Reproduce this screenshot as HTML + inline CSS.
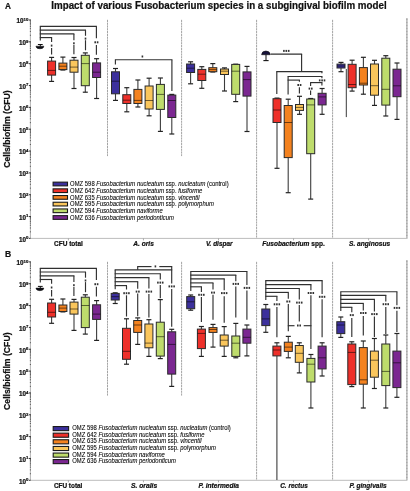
<!DOCTYPE html>
<html><head><meta charset="utf-8"><style>
html,body{margin:0;padding:0;background:#fff;}
svg{display:block;will-change:transform;}
text{font-family:"Liberation Sans", sans-serif;fill:#111;}
text[font-weight="bold"]{stroke:#111;stroke-width:0.22;}
.lg{fill:#000;stroke:#000;stroke-width:0.08;}
</style></head><body>
<svg width="410" height="491" viewBox="0 0 410 491" font-family="Liberation Sans, sans-serif">
<rect width="410" height="491" fill="#fff"/>
<text x="4.9" y="9.0" font-size="8.2" font-weight="bold">A</text>
<text x="5.0" y="256.7" font-size="8.6" font-weight="bold">B</text>
<text x="51.3" y="8.5" font-size="10.3" font-weight="bold" textLength="335.3" lengthAdjust="spacingAndGlyphs">Impact of various Fusobacterium species in a subgingival biofilm model</text>
<line x1="107.50" y1="19.80" x2="107.50" y2="156.10" stroke="#a4a4a4" stroke-width="1.0" stroke-dasharray="2.2,0.6"/>
<line x1="181.60" y1="19.80" x2="181.60" y2="156.10" stroke="#a4a4a4" stroke-width="1.0" stroke-dasharray="2.2,0.6"/>
<line x1="256.60" y1="19.80" x2="256.60" y2="238.40" stroke="#a4a4a4" stroke-width="1.0" stroke-dasharray="2.2,0.6"/>
<line x1="332.60" y1="19.80" x2="332.60" y2="238.40" stroke="#a4a4a4" stroke-width="1.0" stroke-dasharray="2.2,0.6"/>
<line x1="406.90" y1="18.30" x2="406.90" y2="238.40" stroke="#9c9c9c" stroke-width="1.5" stroke-dasharray="2.4,0.6"/>
<line x1="30.40" y1="19.80" x2="30.40" y2="238.40" stroke="#b4b4b4" stroke-width="1.0" />
<line x1="28.90" y1="238.40" x2="31.00" y2="238.40" stroke="#333" stroke-width="1.0" />
<line x1="29.90" y1="231.83" x2="31.00" y2="231.83" stroke="#555" stroke-width="0.9" />
<line x1="29.90" y1="227.98" x2="31.00" y2="227.98" stroke="#555" stroke-width="0.9" />
<line x1="29.90" y1="225.25" x2="31.00" y2="225.25" stroke="#555" stroke-width="0.9" />
<line x1="29.90" y1="223.13" x2="31.00" y2="223.13" stroke="#555" stroke-width="0.9" />
<line x1="29.90" y1="221.41" x2="31.00" y2="221.41" stroke="#555" stroke-width="0.9" />
<line x1="29.90" y1="219.94" x2="31.00" y2="219.94" stroke="#555" stroke-width="0.9" />
<line x1="29.90" y1="218.68" x2="31.00" y2="218.68" stroke="#555" stroke-width="0.9" />
<line x1="29.90" y1="217.56" x2="31.00" y2="217.56" stroke="#555" stroke-width="0.9" />
<text x="28.4" y="241.80" text-anchor="end" font-size="6.3" font-weight="bold">10<tspan font-size="4.3" dy="-2.6">0</tspan></text>
<line x1="28.90" y1="216.56" x2="31.00" y2="216.56" stroke="#333" stroke-width="1.0" />
<line x1="29.90" y1="209.99" x2="31.00" y2="209.99" stroke="#555" stroke-width="0.9" />
<line x1="29.90" y1="206.14" x2="31.00" y2="206.14" stroke="#555" stroke-width="0.9" />
<line x1="29.90" y1="203.41" x2="31.00" y2="203.41" stroke="#555" stroke-width="0.9" />
<line x1="29.90" y1="201.29" x2="31.00" y2="201.29" stroke="#555" stroke-width="0.9" />
<line x1="29.90" y1="199.57" x2="31.00" y2="199.57" stroke="#555" stroke-width="0.9" />
<line x1="29.90" y1="198.10" x2="31.00" y2="198.10" stroke="#555" stroke-width="0.9" />
<line x1="29.90" y1="196.84" x2="31.00" y2="196.84" stroke="#555" stroke-width="0.9" />
<line x1="29.90" y1="195.72" x2="31.00" y2="195.72" stroke="#555" stroke-width="0.9" />
<text x="28.4" y="219.96" text-anchor="end" font-size="6.3" font-weight="bold">10<tspan font-size="4.3" dy="-2.6">1</tspan></text>
<line x1="28.90" y1="194.72" x2="31.00" y2="194.72" stroke="#333" stroke-width="1.0" />
<line x1="29.90" y1="188.15" x2="31.00" y2="188.15" stroke="#555" stroke-width="0.9" />
<line x1="29.90" y1="184.30" x2="31.00" y2="184.30" stroke="#555" stroke-width="0.9" />
<line x1="29.90" y1="181.57" x2="31.00" y2="181.57" stroke="#555" stroke-width="0.9" />
<line x1="29.90" y1="179.45" x2="31.00" y2="179.45" stroke="#555" stroke-width="0.9" />
<line x1="29.90" y1="177.73" x2="31.00" y2="177.73" stroke="#555" stroke-width="0.9" />
<line x1="29.90" y1="176.26" x2="31.00" y2="176.26" stroke="#555" stroke-width="0.9" />
<line x1="29.90" y1="175.00" x2="31.00" y2="175.00" stroke="#555" stroke-width="0.9" />
<line x1="29.90" y1="173.88" x2="31.00" y2="173.88" stroke="#555" stroke-width="0.9" />
<text x="28.4" y="198.12" text-anchor="end" font-size="6.3" font-weight="bold">10<tspan font-size="4.3" dy="-2.6">2</tspan></text>
<line x1="28.90" y1="172.88" x2="31.00" y2="172.88" stroke="#333" stroke-width="1.0" />
<line x1="29.90" y1="166.31" x2="31.00" y2="166.31" stroke="#555" stroke-width="0.9" />
<line x1="29.90" y1="162.46" x2="31.00" y2="162.46" stroke="#555" stroke-width="0.9" />
<line x1="29.90" y1="159.73" x2="31.00" y2="159.73" stroke="#555" stroke-width="0.9" />
<line x1="29.90" y1="157.61" x2="31.00" y2="157.61" stroke="#555" stroke-width="0.9" />
<line x1="29.90" y1="155.89" x2="31.00" y2="155.89" stroke="#555" stroke-width="0.9" />
<line x1="29.90" y1="154.42" x2="31.00" y2="154.42" stroke="#555" stroke-width="0.9" />
<line x1="29.90" y1="153.16" x2="31.00" y2="153.16" stroke="#555" stroke-width="0.9" />
<line x1="29.90" y1="152.04" x2="31.00" y2="152.04" stroke="#555" stroke-width="0.9" />
<text x="28.4" y="176.28" text-anchor="end" font-size="6.3" font-weight="bold">10<tspan font-size="4.3" dy="-2.6">3</tspan></text>
<line x1="28.90" y1="151.04" x2="31.00" y2="151.04" stroke="#333" stroke-width="1.0" />
<line x1="29.90" y1="144.47" x2="31.00" y2="144.47" stroke="#555" stroke-width="0.9" />
<line x1="29.90" y1="140.62" x2="31.00" y2="140.62" stroke="#555" stroke-width="0.9" />
<line x1="29.90" y1="137.89" x2="31.00" y2="137.89" stroke="#555" stroke-width="0.9" />
<line x1="29.90" y1="135.77" x2="31.00" y2="135.77" stroke="#555" stroke-width="0.9" />
<line x1="29.90" y1="134.05" x2="31.00" y2="134.05" stroke="#555" stroke-width="0.9" />
<line x1="29.90" y1="132.58" x2="31.00" y2="132.58" stroke="#555" stroke-width="0.9" />
<line x1="29.90" y1="131.32" x2="31.00" y2="131.32" stroke="#555" stroke-width="0.9" />
<line x1="29.90" y1="130.20" x2="31.00" y2="130.20" stroke="#555" stroke-width="0.9" />
<text x="28.4" y="154.44" text-anchor="end" font-size="6.3" font-weight="bold">10<tspan font-size="4.3" dy="-2.6">4</tspan></text>
<line x1="28.90" y1="129.20" x2="31.00" y2="129.20" stroke="#333" stroke-width="1.0" />
<line x1="29.90" y1="122.63" x2="31.00" y2="122.63" stroke="#555" stroke-width="0.9" />
<line x1="29.90" y1="118.78" x2="31.00" y2="118.78" stroke="#555" stroke-width="0.9" />
<line x1="29.90" y1="116.05" x2="31.00" y2="116.05" stroke="#555" stroke-width="0.9" />
<line x1="29.90" y1="113.93" x2="31.00" y2="113.93" stroke="#555" stroke-width="0.9" />
<line x1="29.90" y1="112.21" x2="31.00" y2="112.21" stroke="#555" stroke-width="0.9" />
<line x1="29.90" y1="110.74" x2="31.00" y2="110.74" stroke="#555" stroke-width="0.9" />
<line x1="29.90" y1="109.48" x2="31.00" y2="109.48" stroke="#555" stroke-width="0.9" />
<line x1="29.90" y1="108.36" x2="31.00" y2="108.36" stroke="#555" stroke-width="0.9" />
<text x="28.4" y="132.60" text-anchor="end" font-size="6.3" font-weight="bold">10<tspan font-size="4.3" dy="-2.6">5</tspan></text>
<line x1="28.90" y1="107.36" x2="31.00" y2="107.36" stroke="#333" stroke-width="1.0" />
<line x1="29.90" y1="100.79" x2="31.00" y2="100.79" stroke="#555" stroke-width="0.9" />
<line x1="29.90" y1="96.94" x2="31.00" y2="96.94" stroke="#555" stroke-width="0.9" />
<line x1="29.90" y1="94.21" x2="31.00" y2="94.21" stroke="#555" stroke-width="0.9" />
<line x1="29.90" y1="92.09" x2="31.00" y2="92.09" stroke="#555" stroke-width="0.9" />
<line x1="29.90" y1="90.37" x2="31.00" y2="90.37" stroke="#555" stroke-width="0.9" />
<line x1="29.90" y1="88.90" x2="31.00" y2="88.90" stroke="#555" stroke-width="0.9" />
<line x1="29.90" y1="87.64" x2="31.00" y2="87.64" stroke="#555" stroke-width="0.9" />
<line x1="29.90" y1="86.52" x2="31.00" y2="86.52" stroke="#555" stroke-width="0.9" />
<text x="28.4" y="110.76" text-anchor="end" font-size="6.3" font-weight="bold">10<tspan font-size="4.3" dy="-2.6">6</tspan></text>
<line x1="28.90" y1="85.52" x2="31.00" y2="85.52" stroke="#333" stroke-width="1.0" />
<line x1="29.90" y1="78.95" x2="31.00" y2="78.95" stroke="#555" stroke-width="0.9" />
<line x1="29.90" y1="75.10" x2="31.00" y2="75.10" stroke="#555" stroke-width="0.9" />
<line x1="29.90" y1="72.37" x2="31.00" y2="72.37" stroke="#555" stroke-width="0.9" />
<line x1="29.90" y1="70.25" x2="31.00" y2="70.25" stroke="#555" stroke-width="0.9" />
<line x1="29.90" y1="68.53" x2="31.00" y2="68.53" stroke="#555" stroke-width="0.9" />
<line x1="29.90" y1="67.06" x2="31.00" y2="67.06" stroke="#555" stroke-width="0.9" />
<line x1="29.90" y1="65.80" x2="31.00" y2="65.80" stroke="#555" stroke-width="0.9" />
<line x1="29.90" y1="64.68" x2="31.00" y2="64.68" stroke="#555" stroke-width="0.9" />
<text x="28.4" y="88.92" text-anchor="end" font-size="6.3" font-weight="bold">10<tspan font-size="4.3" dy="-2.6">7</tspan></text>
<line x1="28.90" y1="63.68" x2="31.00" y2="63.68" stroke="#333" stroke-width="1.0" />
<line x1="29.90" y1="57.11" x2="31.00" y2="57.11" stroke="#555" stroke-width="0.9" />
<line x1="29.90" y1="53.26" x2="31.00" y2="53.26" stroke="#555" stroke-width="0.9" />
<line x1="29.90" y1="50.53" x2="31.00" y2="50.53" stroke="#555" stroke-width="0.9" />
<line x1="29.90" y1="48.41" x2="31.00" y2="48.41" stroke="#555" stroke-width="0.9" />
<line x1="29.90" y1="46.69" x2="31.00" y2="46.69" stroke="#555" stroke-width="0.9" />
<line x1="29.90" y1="45.22" x2="31.00" y2="45.22" stroke="#555" stroke-width="0.9" />
<line x1="29.90" y1="43.96" x2="31.00" y2="43.96" stroke="#555" stroke-width="0.9" />
<line x1="29.90" y1="42.84" x2="31.00" y2="42.84" stroke="#555" stroke-width="0.9" />
<text x="28.4" y="67.08" text-anchor="end" font-size="6.3" font-weight="bold">10<tspan font-size="4.3" dy="-2.6">8</tspan></text>
<line x1="28.90" y1="41.84" x2="31.00" y2="41.84" stroke="#333" stroke-width="1.0" />
<line x1="29.90" y1="35.27" x2="31.00" y2="35.27" stroke="#555" stroke-width="0.9" />
<line x1="29.90" y1="31.42" x2="31.00" y2="31.42" stroke="#555" stroke-width="0.9" />
<line x1="29.90" y1="28.69" x2="31.00" y2="28.69" stroke="#555" stroke-width="0.9" />
<line x1="29.90" y1="26.57" x2="31.00" y2="26.57" stroke="#555" stroke-width="0.9" />
<line x1="29.90" y1="24.85" x2="31.00" y2="24.85" stroke="#555" stroke-width="0.9" />
<line x1="29.90" y1="23.38" x2="31.00" y2="23.38" stroke="#555" stroke-width="0.9" />
<line x1="29.90" y1="22.12" x2="31.00" y2="22.12" stroke="#555" stroke-width="0.9" />
<line x1="29.90" y1="21.00" x2="31.00" y2="21.00" stroke="#555" stroke-width="0.9" />
<text x="28.4" y="45.24" text-anchor="end" font-size="6.3" font-weight="bold">10<tspan font-size="4.3" dy="-2.6">9</tspan></text>
<line x1="28.90" y1="20.00" x2="31.00" y2="20.00" stroke="#333" stroke-width="1.0" />
<text x="28.4" y="23.40" text-anchor="end" font-size="6.3" font-weight="bold">10<tspan font-size="4.3" dy="-2.6">10</tspan></text>
<line x1="30.40" y1="238.40" x2="407.20" y2="238.40" stroke="#bcbcbc" stroke-width="1.0" />
<line x1="68.40" y1="238.40" x2="68.40" y2="240.40" stroke="#999" stroke-width="0.8" />
<line x1="143.45" y1="238.40" x2="143.45" y2="240.40" stroke="#999" stroke-width="0.8" />
<line x1="218.50" y1="238.40" x2="218.50" y2="240.40" stroke="#999" stroke-width="0.8" />
<line x1="293.55" y1="238.40" x2="293.55" y2="240.40" stroke="#999" stroke-width="0.8" />
<line x1="368.60" y1="238.40" x2="368.60" y2="240.40" stroke="#999" stroke-width="0.8" />
<text x="9.6" y="129.10" font-size="8.7" font-weight="bold" text-anchor="middle" transform="rotate(-90 9.6 129.10)" textLength="77.5" lengthAdjust="spacingAndGlyphs">Cells/biofilm (CFU)</text>
<line x1="107.50" y1="261.80" x2="107.50" y2="395.60" stroke="#a4a4a4" stroke-width="1.0" stroke-dasharray="2.2,0.6"/>
<line x1="181.60" y1="261.80" x2="181.60" y2="395.60" stroke="#a4a4a4" stroke-width="1.0" stroke-dasharray="2.2,0.6"/>
<line x1="256.60" y1="261.80" x2="256.60" y2="480.30" stroke="#a4a4a4" stroke-width="1.0" stroke-dasharray="2.2,0.6"/>
<line x1="332.60" y1="261.80" x2="332.60" y2="480.30" stroke="#a4a4a4" stroke-width="1.0" stroke-dasharray="2.2,0.6"/>
<line x1="406.90" y1="260.30" x2="406.90" y2="480.30" stroke="#9c9c9c" stroke-width="1.5" stroke-dasharray="2.4,0.6"/>
<line x1="30.40" y1="261.80" x2="30.40" y2="480.30" stroke="#b4b4b4" stroke-width="1.0" />
<line x1="28.90" y1="480.30" x2="31.00" y2="480.30" stroke="#333" stroke-width="1.0" />
<line x1="29.90" y1="473.73" x2="31.00" y2="473.73" stroke="#555" stroke-width="0.9" />
<line x1="29.90" y1="469.88" x2="31.00" y2="469.88" stroke="#555" stroke-width="0.9" />
<line x1="29.90" y1="467.15" x2="31.00" y2="467.15" stroke="#555" stroke-width="0.9" />
<line x1="29.90" y1="465.03" x2="31.00" y2="465.03" stroke="#555" stroke-width="0.9" />
<line x1="29.90" y1="463.31" x2="31.00" y2="463.31" stroke="#555" stroke-width="0.9" />
<line x1="29.90" y1="461.84" x2="31.00" y2="461.84" stroke="#555" stroke-width="0.9" />
<line x1="29.90" y1="460.58" x2="31.00" y2="460.58" stroke="#555" stroke-width="0.9" />
<line x1="29.90" y1="459.46" x2="31.00" y2="459.46" stroke="#555" stroke-width="0.9" />
<text x="28.4" y="483.70" text-anchor="end" font-size="6.3" font-weight="bold">10<tspan font-size="4.3" dy="-2.6">0</tspan></text>
<line x1="28.90" y1="458.46" x2="31.00" y2="458.46" stroke="#333" stroke-width="1.0" />
<line x1="29.90" y1="451.89" x2="31.00" y2="451.89" stroke="#555" stroke-width="0.9" />
<line x1="29.90" y1="448.04" x2="31.00" y2="448.04" stroke="#555" stroke-width="0.9" />
<line x1="29.90" y1="445.31" x2="31.00" y2="445.31" stroke="#555" stroke-width="0.9" />
<line x1="29.90" y1="443.19" x2="31.00" y2="443.19" stroke="#555" stroke-width="0.9" />
<line x1="29.90" y1="441.47" x2="31.00" y2="441.47" stroke="#555" stroke-width="0.9" />
<line x1="29.90" y1="440.00" x2="31.00" y2="440.00" stroke="#555" stroke-width="0.9" />
<line x1="29.90" y1="438.74" x2="31.00" y2="438.74" stroke="#555" stroke-width="0.9" />
<line x1="29.90" y1="437.62" x2="31.00" y2="437.62" stroke="#555" stroke-width="0.9" />
<text x="28.4" y="461.86" text-anchor="end" font-size="6.3" font-weight="bold">10<tspan font-size="4.3" dy="-2.6">1</tspan></text>
<line x1="28.90" y1="436.62" x2="31.00" y2="436.62" stroke="#333" stroke-width="1.0" />
<line x1="29.90" y1="430.05" x2="31.00" y2="430.05" stroke="#555" stroke-width="0.9" />
<line x1="29.90" y1="426.20" x2="31.00" y2="426.20" stroke="#555" stroke-width="0.9" />
<line x1="29.90" y1="423.47" x2="31.00" y2="423.47" stroke="#555" stroke-width="0.9" />
<line x1="29.90" y1="421.35" x2="31.00" y2="421.35" stroke="#555" stroke-width="0.9" />
<line x1="29.90" y1="419.63" x2="31.00" y2="419.63" stroke="#555" stroke-width="0.9" />
<line x1="29.90" y1="418.16" x2="31.00" y2="418.16" stroke="#555" stroke-width="0.9" />
<line x1="29.90" y1="416.90" x2="31.00" y2="416.90" stroke="#555" stroke-width="0.9" />
<line x1="29.90" y1="415.78" x2="31.00" y2="415.78" stroke="#555" stroke-width="0.9" />
<text x="28.4" y="440.02" text-anchor="end" font-size="6.3" font-weight="bold">10<tspan font-size="4.3" dy="-2.6">2</tspan></text>
<line x1="28.90" y1="414.78" x2="31.00" y2="414.78" stroke="#333" stroke-width="1.0" />
<line x1="29.90" y1="408.21" x2="31.00" y2="408.21" stroke="#555" stroke-width="0.9" />
<line x1="29.90" y1="404.36" x2="31.00" y2="404.36" stroke="#555" stroke-width="0.9" />
<line x1="29.90" y1="401.63" x2="31.00" y2="401.63" stroke="#555" stroke-width="0.9" />
<line x1="29.90" y1="399.51" x2="31.00" y2="399.51" stroke="#555" stroke-width="0.9" />
<line x1="29.90" y1="397.79" x2="31.00" y2="397.79" stroke="#555" stroke-width="0.9" />
<line x1="29.90" y1="396.32" x2="31.00" y2="396.32" stroke="#555" stroke-width="0.9" />
<line x1="29.90" y1="395.06" x2="31.00" y2="395.06" stroke="#555" stroke-width="0.9" />
<line x1="29.90" y1="393.94" x2="31.00" y2="393.94" stroke="#555" stroke-width="0.9" />
<text x="28.4" y="418.18" text-anchor="end" font-size="6.3" font-weight="bold">10<tspan font-size="4.3" dy="-2.6">3</tspan></text>
<line x1="28.90" y1="392.94" x2="31.00" y2="392.94" stroke="#333" stroke-width="1.0" />
<line x1="29.90" y1="386.37" x2="31.00" y2="386.37" stroke="#555" stroke-width="0.9" />
<line x1="29.90" y1="382.52" x2="31.00" y2="382.52" stroke="#555" stroke-width="0.9" />
<line x1="29.90" y1="379.79" x2="31.00" y2="379.79" stroke="#555" stroke-width="0.9" />
<line x1="29.90" y1="377.67" x2="31.00" y2="377.67" stroke="#555" stroke-width="0.9" />
<line x1="29.90" y1="375.95" x2="31.00" y2="375.95" stroke="#555" stroke-width="0.9" />
<line x1="29.90" y1="374.48" x2="31.00" y2="374.48" stroke="#555" stroke-width="0.9" />
<line x1="29.90" y1="373.22" x2="31.00" y2="373.22" stroke="#555" stroke-width="0.9" />
<line x1="29.90" y1="372.10" x2="31.00" y2="372.10" stroke="#555" stroke-width="0.9" />
<text x="28.4" y="396.34" text-anchor="end" font-size="6.3" font-weight="bold">10<tspan font-size="4.3" dy="-2.6">4</tspan></text>
<line x1="28.90" y1="371.10" x2="31.00" y2="371.10" stroke="#333" stroke-width="1.0" />
<line x1="29.90" y1="364.53" x2="31.00" y2="364.53" stroke="#555" stroke-width="0.9" />
<line x1="29.90" y1="360.68" x2="31.00" y2="360.68" stroke="#555" stroke-width="0.9" />
<line x1="29.90" y1="357.95" x2="31.00" y2="357.95" stroke="#555" stroke-width="0.9" />
<line x1="29.90" y1="355.83" x2="31.00" y2="355.83" stroke="#555" stroke-width="0.9" />
<line x1="29.90" y1="354.11" x2="31.00" y2="354.11" stroke="#555" stroke-width="0.9" />
<line x1="29.90" y1="352.64" x2="31.00" y2="352.64" stroke="#555" stroke-width="0.9" />
<line x1="29.90" y1="351.38" x2="31.00" y2="351.38" stroke="#555" stroke-width="0.9" />
<line x1="29.90" y1="350.26" x2="31.00" y2="350.26" stroke="#555" stroke-width="0.9" />
<text x="28.4" y="374.50" text-anchor="end" font-size="6.3" font-weight="bold">10<tspan font-size="4.3" dy="-2.6">5</tspan></text>
<line x1="28.90" y1="349.26" x2="31.00" y2="349.26" stroke="#333" stroke-width="1.0" />
<line x1="29.90" y1="342.69" x2="31.00" y2="342.69" stroke="#555" stroke-width="0.9" />
<line x1="29.90" y1="338.84" x2="31.00" y2="338.84" stroke="#555" stroke-width="0.9" />
<line x1="29.90" y1="336.11" x2="31.00" y2="336.11" stroke="#555" stroke-width="0.9" />
<line x1="29.90" y1="333.99" x2="31.00" y2="333.99" stroke="#555" stroke-width="0.9" />
<line x1="29.90" y1="332.27" x2="31.00" y2="332.27" stroke="#555" stroke-width="0.9" />
<line x1="29.90" y1="330.80" x2="31.00" y2="330.80" stroke="#555" stroke-width="0.9" />
<line x1="29.90" y1="329.54" x2="31.00" y2="329.54" stroke="#555" stroke-width="0.9" />
<line x1="29.90" y1="328.42" x2="31.00" y2="328.42" stroke="#555" stroke-width="0.9" />
<text x="28.4" y="352.66" text-anchor="end" font-size="6.3" font-weight="bold">10<tspan font-size="4.3" dy="-2.6">6</tspan></text>
<line x1="28.90" y1="327.42" x2="31.00" y2="327.42" stroke="#333" stroke-width="1.0" />
<line x1="29.90" y1="320.85" x2="31.00" y2="320.85" stroke="#555" stroke-width="0.9" />
<line x1="29.90" y1="317.00" x2="31.00" y2="317.00" stroke="#555" stroke-width="0.9" />
<line x1="29.90" y1="314.27" x2="31.00" y2="314.27" stroke="#555" stroke-width="0.9" />
<line x1="29.90" y1="312.15" x2="31.00" y2="312.15" stroke="#555" stroke-width="0.9" />
<line x1="29.90" y1="310.43" x2="31.00" y2="310.43" stroke="#555" stroke-width="0.9" />
<line x1="29.90" y1="308.96" x2="31.00" y2="308.96" stroke="#555" stroke-width="0.9" />
<line x1="29.90" y1="307.70" x2="31.00" y2="307.70" stroke="#555" stroke-width="0.9" />
<line x1="29.90" y1="306.58" x2="31.00" y2="306.58" stroke="#555" stroke-width="0.9" />
<text x="28.4" y="330.82" text-anchor="end" font-size="6.3" font-weight="bold">10<tspan font-size="4.3" dy="-2.6">7</tspan></text>
<line x1="28.90" y1="305.58" x2="31.00" y2="305.58" stroke="#333" stroke-width="1.0" />
<line x1="29.90" y1="299.01" x2="31.00" y2="299.01" stroke="#555" stroke-width="0.9" />
<line x1="29.90" y1="295.16" x2="31.00" y2="295.16" stroke="#555" stroke-width="0.9" />
<line x1="29.90" y1="292.43" x2="31.00" y2="292.43" stroke="#555" stroke-width="0.9" />
<line x1="29.90" y1="290.31" x2="31.00" y2="290.31" stroke="#555" stroke-width="0.9" />
<line x1="29.90" y1="288.59" x2="31.00" y2="288.59" stroke="#555" stroke-width="0.9" />
<line x1="29.90" y1="287.12" x2="31.00" y2="287.12" stroke="#555" stroke-width="0.9" />
<line x1="29.90" y1="285.86" x2="31.00" y2="285.86" stroke="#555" stroke-width="0.9" />
<line x1="29.90" y1="284.74" x2="31.00" y2="284.74" stroke="#555" stroke-width="0.9" />
<text x="28.4" y="308.98" text-anchor="end" font-size="6.3" font-weight="bold">10<tspan font-size="4.3" dy="-2.6">8</tspan></text>
<line x1="28.90" y1="283.74" x2="31.00" y2="283.74" stroke="#333" stroke-width="1.0" />
<line x1="29.90" y1="277.17" x2="31.00" y2="277.17" stroke="#555" stroke-width="0.9" />
<line x1="29.90" y1="273.32" x2="31.00" y2="273.32" stroke="#555" stroke-width="0.9" />
<line x1="29.90" y1="270.59" x2="31.00" y2="270.59" stroke="#555" stroke-width="0.9" />
<line x1="29.90" y1="268.47" x2="31.00" y2="268.47" stroke="#555" stroke-width="0.9" />
<line x1="29.90" y1="266.75" x2="31.00" y2="266.75" stroke="#555" stroke-width="0.9" />
<line x1="29.90" y1="265.28" x2="31.00" y2="265.28" stroke="#555" stroke-width="0.9" />
<line x1="29.90" y1="264.02" x2="31.00" y2="264.02" stroke="#555" stroke-width="0.9" />
<line x1="29.90" y1="262.90" x2="31.00" y2="262.90" stroke="#555" stroke-width="0.9" />
<text x="28.4" y="287.14" text-anchor="end" font-size="6.3" font-weight="bold">10<tspan font-size="4.3" dy="-2.6">9</tspan></text>
<line x1="28.90" y1="261.90" x2="31.00" y2="261.90" stroke="#333" stroke-width="1.0" />
<text x="28.4" y="265.30" text-anchor="end" font-size="6.3" font-weight="bold">10<tspan font-size="4.3" dy="-2.6">10</tspan></text>
<line x1="30.40" y1="480.30" x2="407.20" y2="480.30" stroke="#bcbcbc" stroke-width="1.0" />
<line x1="68.40" y1="480.30" x2="68.40" y2="482.30" stroke="#999" stroke-width="0.8" />
<line x1="143.45" y1="480.30" x2="143.45" y2="482.30" stroke="#999" stroke-width="0.8" />
<line x1="218.50" y1="480.30" x2="218.50" y2="482.30" stroke="#999" stroke-width="0.8" />
<line x1="293.55" y1="480.30" x2="293.55" y2="482.30" stroke="#999" stroke-width="0.8" />
<line x1="368.60" y1="480.30" x2="368.60" y2="482.30" stroke="#999" stroke-width="0.8" />
<text x="9.6" y="371.20" font-size="8.7" font-weight="bold" text-anchor="middle" transform="rotate(-90 9.6 371.20)" textLength="77.5" lengthAdjust="spacingAndGlyphs">Cells/biofilm (CFU)</text>
<rect x="53.10" y="182.15" width="14.40" height="3.70" fill="#3c309c" stroke="#1a1a1a" stroke-width="1.1"/>
<text class="lg" transform="translate(70.10,186.10) scale(0.894,1)" x="0" y="0" font-size="6.6">OMZ 598 <tspan font-style="italic">Fusobacterium nucleatum</tspan> ssp. <tspan font-style="italic">nucleatum</tspan> (control)</text>
<rect x="53.10" y="188.85" width="14.40" height="3.70" fill="#ee302a" stroke="#1a1a1a" stroke-width="1.1"/>
<text class="lg" transform="translate(70.10,192.80) scale(0.894,1)" x="0" y="0" font-size="6.6">OMZ 642 <tspan font-style="italic">Fusobacterium nucleatum</tspan> ssp. <tspan font-style="italic">fusiforme</tspan></text>
<rect x="53.10" y="195.55" width="14.40" height="3.70" fill="#f4821f" stroke="#1a1a1a" stroke-width="1.1"/>
<text class="lg" transform="translate(70.10,199.50) scale(0.894,1)" x="0" y="0" font-size="6.6">OMZ 635 <tspan font-style="italic">Fusobacterium nucleatum</tspan> ssp. <tspan font-style="italic">vincentii</tspan></text>
<rect x="53.10" y="202.25" width="14.40" height="3.70" fill="#fac65c" stroke="#1a1a1a" stroke-width="1.1"/>
<text class="lg" transform="translate(70.10,206.20) scale(0.894,1)" x="0" y="0" font-size="6.6">OMZ 595 <tspan font-style="italic">Fusobacterium nucleatum</tspan> ssp. <tspan font-style="italic">polymorphum</tspan></text>
<rect x="53.10" y="208.95" width="14.40" height="3.70" fill="#bedc6c" stroke="#1a1a1a" stroke-width="1.1"/>
<text class="lg" transform="translate(70.10,212.90) scale(0.894,1)" x="0" y="0" font-size="6.6">OMZ 594 <tspan font-style="italic">Fusobacterium naviforme</tspan></text>
<rect x="53.10" y="215.65" width="14.40" height="3.70" fill="#7b2791" stroke="#1a1a1a" stroke-width="1.1"/>
<text class="lg" transform="translate(70.10,219.60) scale(0.894,1)" x="0" y="0" font-size="6.6">OMZ 636 <tspan font-style="italic">Fusobacterium periodonticum</tspan></text>
<rect x="53.20" y="426.55" width="15.40" height="4.10" fill="#3c309c" stroke="#1a1a1a" stroke-width="1.1"/>
<text class="lg" transform="translate(72.20,430.10) scale(0.894,1)" x="0" y="0" font-size="6.6">OMZ 598 <tspan font-style="italic">Fusobacterium nucleatum</tspan> ssp. <tspan font-style="italic">nucleatum</tspan> (control)</text>
<rect x="53.20" y="433.15" width="15.40" height="4.10" fill="#ee302a" stroke="#1a1a1a" stroke-width="1.1"/>
<text class="lg" transform="translate(72.20,436.70) scale(0.894,1)" x="0" y="0" font-size="6.6">OMZ 642 <tspan font-style="italic">Fusobacterium nucleatum</tspan> ssp. <tspan font-style="italic">fusiforme</tspan></text>
<rect x="53.20" y="439.75" width="15.40" height="4.10" fill="#f4821f" stroke="#1a1a1a" stroke-width="1.1"/>
<text class="lg" transform="translate(72.20,443.30) scale(0.894,1)" x="0" y="0" font-size="6.6">OMZ 635 <tspan font-style="italic">Fusobacterium nucleatum</tspan> ssp. <tspan font-style="italic">vincentii</tspan></text>
<rect x="53.20" y="446.45" width="15.40" height="4.10" fill="#fac65c" stroke="#1a1a1a" stroke-width="1.1"/>
<text class="lg" transform="translate(72.20,450.00) scale(0.894,1)" x="0" y="0" font-size="6.6">OMZ 595 <tspan font-style="italic">Fusobacterium nucleatum</tspan> ssp. <tspan font-style="italic">polymorphum</tspan></text>
<rect x="53.20" y="453.05" width="15.40" height="4.10" fill="#bedc6c" stroke="#1a1a1a" stroke-width="1.1"/>
<text class="lg" transform="translate(72.20,456.60) scale(0.894,1)" x="0" y="0" font-size="6.6">OMZ 594 <tspan font-style="italic">Fusobacterium naviforme</tspan></text>
<rect x="53.20" y="459.55" width="15.40" height="4.10" fill="#7b2791" stroke="#1a1a1a" stroke-width="1.1"/>
<text class="lg" transform="translate(72.20,463.10) scale(0.894,1)" x="0" y="0" font-size="6.6">OMZ 636 <tspan font-style="italic">Fusobacterium periodonticum</tspan></text>
<text x="54.00" y="246.10" font-size="6.7" font-weight="bold" textLength="28.90" lengthAdjust="spacingAndGlyphs">CFU total</text>
<text x="133.30" y="246.10" font-size="6.7" font-weight="bold" textLength="20.50" lengthAdjust="spacingAndGlyphs"><tspan font-style="italic">A. oris</tspan></text>
<text x="205.90" y="246.10" font-size="6.7" font-weight="bold" textLength="26.60" lengthAdjust="spacingAndGlyphs"><tspan font-style="italic">V. dispar</tspan></text>
<text x="262.20" y="246.10" font-size="6.7" font-weight="bold" textLength="62.60" lengthAdjust="spacingAndGlyphs"><tspan font-style="italic">Fusobacterium</tspan> spp.</text>
<text x="349.00" y="246.10" font-size="6.7" font-weight="bold" textLength="41.20" lengthAdjust="spacingAndGlyphs"><tspan font-style="italic">S. anginosus</tspan></text>
<text x="53.90" y="488.00" font-size="6.7" font-weight="bold" textLength="28.50" lengthAdjust="spacingAndGlyphs">CFU total</text>
<text x="130.90" y="488.00" font-size="6.7" font-weight="bold" textLength="26.40" lengthAdjust="spacingAndGlyphs"><tspan font-style="italic">S. oralis</tspan></text>
<text x="198.50" y="488.00" font-size="6.7" font-weight="bold" textLength="40.50" lengthAdjust="spacingAndGlyphs"><tspan font-style="italic">P. intermedia</tspan></text>
<text x="280.20" y="488.00" font-size="6.7" font-weight="bold" textLength="27.60" lengthAdjust="spacingAndGlyphs"><tspan font-style="italic">C. rectus</tspan></text>
<text x="349.40" y="488.00" font-size="6.7" font-weight="bold" textLength="37.30" lengthAdjust="spacingAndGlyphs"><tspan font-style="italic">P. gingivalis</tspan></text>
<line x1="40.30" y1="44.50" x2="40.30" y2="46.50" stroke="#222" stroke-width="1.1" />
<line x1="37.90" y1="44.50" x2="42.70" y2="44.50" stroke="#111" stroke-width="1.0" />
<path d="M35.9,46.20 L43.9,46.20 Q43.6,48.80 39.9,48.80 Q36.2,48.80 35.9,46.20 Z" fill="#0c0c14" stroke="#111" stroke-width="0.5"/>
<line x1="51.60" y1="57.40" x2="51.60" y2="61.10" stroke="#3c3c3c" stroke-width="1.1" />
<line x1="51.60" y1="75.10" x2="51.60" y2="81.40" stroke="#3c3c3c" stroke-width="1.1" />
<line x1="49.10" y1="57.40" x2="54.10" y2="57.40" stroke="#222" stroke-width="1.2" />
<line x1="49.10" y1="81.40" x2="54.10" y2="81.40" stroke="#222" stroke-width="1.2" />
<rect x="47.60" y="61.10" width="8.00" height="14.00" fill="#ee302a" stroke="#2a2a2a" stroke-width="1"/>
<line x1="47.60" y1="70.40" x2="55.60" y2="70.40" stroke="rgba(0,0,0,0.55)" stroke-width="1.0" />
<line x1="62.90" y1="57.10" x2="62.90" y2="63.10" stroke="#3c3c3c" stroke-width="1.1" />
<line x1="62.90" y1="69.60" x2="62.90" y2="70.00" stroke="#3c3c3c" stroke-width="1.1" />
<line x1="60.40" y1="57.10" x2="65.40" y2="57.10" stroke="#222" stroke-width="1.2" />
<line x1="60.40" y1="70.00" x2="65.40" y2="70.00" stroke="#222" stroke-width="1.2" />
<rect x="58.90" y="63.10" width="8.00" height="6.50" fill="#f4821f" stroke="#2a2a2a" stroke-width="1"/>
<line x1="58.90" y1="66.20" x2="66.90" y2="66.20" stroke="rgba(0,0,0,0.55)" stroke-width="1.0" />
<line x1="74.00" y1="57.50" x2="74.00" y2="60.20" stroke="#3c3c3c" stroke-width="1.1" />
<line x1="74.00" y1="72.20" x2="74.00" y2="88.50" stroke="#3c3c3c" stroke-width="1.1" />
<line x1="71.50" y1="57.50" x2="76.50" y2="57.50" stroke="#222" stroke-width="1.2" />
<line x1="71.50" y1="88.50" x2="76.50" y2="88.50" stroke="#222" stroke-width="1.2" />
<rect x="70.00" y="60.20" width="8.00" height="12.00" fill="#fac65c" stroke="#2a2a2a" stroke-width="1"/>
<line x1="70.00" y1="67.10" x2="78.00" y2="67.10" stroke="rgba(0,0,0,0.55)" stroke-width="1.0" />
<line x1="85.30" y1="52.90" x2="85.30" y2="55.30" stroke="#3c3c3c" stroke-width="1.1" />
<line x1="85.30" y1="85.70" x2="85.30" y2="92.20" stroke="#3c3c3c" stroke-width="1.1" />
<line x1="82.80" y1="52.90" x2="87.80" y2="52.90" stroke="#222" stroke-width="1.2" />
<line x1="82.80" y1="92.20" x2="87.80" y2="92.20" stroke="#222" stroke-width="1.2" />
<rect x="81.30" y="55.30" width="8.00" height="30.40" fill="#bedc6c" stroke="#2a2a2a" stroke-width="1"/>
<line x1="81.30" y1="63.60" x2="89.30" y2="63.60" stroke="rgba(0,0,0,0.55)" stroke-width="1.0" />
<line x1="96.60" y1="58.70" x2="96.60" y2="62.90" stroke="#3c3c3c" stroke-width="1.1" />
<line x1="96.60" y1="77.50" x2="96.60" y2="98.50" stroke="#3c3c3c" stroke-width="1.1" />
<line x1="94.10" y1="58.70" x2="99.10" y2="58.70" stroke="#222" stroke-width="1.2" />
<line x1="94.10" y1="98.50" x2="99.10" y2="98.50" stroke="#222" stroke-width="1.2" />
<rect x="92.60" y="62.90" width="8.00" height="14.60" fill="#7b2791" stroke="#2a2a2a" stroke-width="1"/>
<line x1="92.60" y1="72.20" x2="100.60" y2="72.20" stroke="rgba(0,0,0,0.55)" stroke-width="1.0" />
<line x1="40.30" y1="26.40" x2="40.30" y2="40.50" stroke="#303030" stroke-width="1.15" />
<line x1="39.80" y1="26.40" x2="96.90" y2="26.40" stroke="#303030" stroke-width="1.15" />
<line x1="39.80" y1="30.10" x2="86.00" y2="30.10" stroke="#303030" stroke-width="1.15" />
<line x1="39.80" y1="33.90" x2="74.40" y2="33.90" stroke="#303030" stroke-width="1.15" />
<line x1="39.80" y1="37.60" x2="52.10" y2="37.60" stroke="#303030" stroke-width="1.15" />
<line x1="96.40" y1="26.40" x2="96.40" y2="38.20" stroke="#303030" stroke-width="1.15" />
<rect x="94.40" y="41.30" width="1.6" height="2.0" fill="#333"/>
<rect x="96.80" y="41.30" width="1.6" height="2.0" fill="#333"/>
<line x1="96.40" y1="44.90" x2="96.40" y2="54.70" stroke="#303030" stroke-width="1.15" />
<line x1="85.50" y1="30.10" x2="85.50" y2="35.80" stroke="#303030" stroke-width="1.15" />
<rect x="84.70" y="37.60" width="1.6" height="2.0" fill="#333"/>
<line x1="85.50" y1="40.20" x2="85.50" y2="50.30" stroke="#303030" stroke-width="1.15" />
<line x1="73.90" y1="33.90" x2="73.90" y2="40.20" stroke="#303030" stroke-width="1.15" />
<rect x="73.10" y="42.30" width="1.6" height="2.0" fill="#333"/>
<line x1="73.90" y1="45.00" x2="73.90" y2="54.20" stroke="#303030" stroke-width="1.15" />
<line x1="51.60" y1="37.60" x2="51.60" y2="41.90" stroke="#303030" stroke-width="1.15" />
<rect x="50.80" y="44.60" width="1.6" height="2.0" fill="#333"/>
<line x1="51.60" y1="48.00" x2="51.60" y2="54.60" stroke="#303030" stroke-width="1.15" />
<line x1="40.30" y1="286.40" x2="40.30" y2="288.40" stroke="#222" stroke-width="1.1" />
<line x1="37.90" y1="286.40" x2="42.70" y2="286.40" stroke="#111" stroke-width="1.0" />
<path d="M35.9,288.10 L43.9,288.10 Q43.6,290.70 39.9,290.70 Q36.2,290.70 35.9,288.10 Z" fill="#0c0c14" stroke="#111" stroke-width="0.5"/>
<line x1="51.60" y1="299.30" x2="51.60" y2="303.00" stroke="#3c3c3c" stroke-width="1.1" />
<line x1="51.60" y1="317.00" x2="51.60" y2="323.30" stroke="#3c3c3c" stroke-width="1.1" />
<line x1="49.10" y1="299.30" x2="54.10" y2="299.30" stroke="#222" stroke-width="1.2" />
<line x1="49.10" y1="323.30" x2="54.10" y2="323.30" stroke="#222" stroke-width="1.2" />
<rect x="47.60" y="303.00" width="8.00" height="14.00" fill="#ee302a" stroke="#2a2a2a" stroke-width="1"/>
<line x1="47.60" y1="312.30" x2="55.60" y2="312.30" stroke="rgba(0,0,0,0.55)" stroke-width="1.0" />
<line x1="62.90" y1="299.00" x2="62.90" y2="305.00" stroke="#3c3c3c" stroke-width="1.1" />
<line x1="62.90" y1="311.50" x2="62.90" y2="311.90" stroke="#3c3c3c" stroke-width="1.1" />
<line x1="60.40" y1="299.00" x2="65.40" y2="299.00" stroke="#222" stroke-width="1.2" />
<line x1="60.40" y1="311.90" x2="65.40" y2="311.90" stroke="#222" stroke-width="1.2" />
<rect x="58.90" y="305.00" width="8.00" height="6.50" fill="#f4821f" stroke="#2a2a2a" stroke-width="1"/>
<line x1="58.90" y1="308.10" x2="66.90" y2="308.10" stroke="rgba(0,0,0,0.55)" stroke-width="1.0" />
<line x1="74.00" y1="299.40" x2="74.00" y2="302.10" stroke="#3c3c3c" stroke-width="1.1" />
<line x1="74.00" y1="314.10" x2="74.00" y2="330.40" stroke="#3c3c3c" stroke-width="1.1" />
<line x1="71.50" y1="299.40" x2="76.50" y2="299.40" stroke="#222" stroke-width="1.2" />
<line x1="71.50" y1="330.40" x2="76.50" y2="330.40" stroke="#222" stroke-width="1.2" />
<rect x="70.00" y="302.10" width="8.00" height="12.00" fill="#fac65c" stroke="#2a2a2a" stroke-width="1"/>
<line x1="70.00" y1="309.00" x2="78.00" y2="309.00" stroke="rgba(0,0,0,0.55)" stroke-width="1.0" />
<line x1="85.30" y1="294.80" x2="85.30" y2="297.20" stroke="#3c3c3c" stroke-width="1.1" />
<line x1="85.30" y1="327.60" x2="85.30" y2="334.10" stroke="#3c3c3c" stroke-width="1.1" />
<line x1="82.80" y1="294.80" x2="87.80" y2="294.80" stroke="#222" stroke-width="1.2" />
<line x1="82.80" y1="334.10" x2="87.80" y2="334.10" stroke="#222" stroke-width="1.2" />
<rect x="81.30" y="297.20" width="8.00" height="30.40" fill="#bedc6c" stroke="#2a2a2a" stroke-width="1"/>
<line x1="81.30" y1="305.50" x2="89.30" y2="305.50" stroke="rgba(0,0,0,0.55)" stroke-width="1.0" />
<line x1="96.60" y1="300.60" x2="96.60" y2="304.80" stroke="#3c3c3c" stroke-width="1.1" />
<line x1="96.60" y1="319.40" x2="96.60" y2="340.40" stroke="#3c3c3c" stroke-width="1.1" />
<line x1="94.10" y1="300.60" x2="99.10" y2="300.60" stroke="#222" stroke-width="1.2" />
<line x1="94.10" y1="340.40" x2="99.10" y2="340.40" stroke="#222" stroke-width="1.2" />
<rect x="92.60" y="304.80" width="8.00" height="14.60" fill="#7b2791" stroke="#2a2a2a" stroke-width="1"/>
<line x1="92.60" y1="314.10" x2="100.60" y2="314.10" stroke="rgba(0,0,0,0.55)" stroke-width="1.0" />
<line x1="40.30" y1="268.30" x2="40.30" y2="282.40" stroke="#303030" stroke-width="1.15" />
<line x1="39.80" y1="268.30" x2="96.90" y2="268.30" stroke="#303030" stroke-width="1.15" />
<line x1="39.80" y1="272.00" x2="86.00" y2="272.00" stroke="#303030" stroke-width="1.15" />
<line x1="39.80" y1="275.80" x2="74.40" y2="275.80" stroke="#303030" stroke-width="1.15" />
<line x1="39.80" y1="279.50" x2="52.10" y2="279.50" stroke="#303030" stroke-width="1.15" />
<line x1="96.40" y1="268.30" x2="96.40" y2="280.10" stroke="#303030" stroke-width="1.15" />
<rect x="94.40" y="283.20" width="1.6" height="2.0" fill="#333"/>
<rect x="96.80" y="283.20" width="1.6" height="2.0" fill="#333"/>
<line x1="96.40" y1="286.80" x2="96.40" y2="296.60" stroke="#303030" stroke-width="1.15" />
<line x1="85.50" y1="272.00" x2="85.50" y2="277.70" stroke="#303030" stroke-width="1.15" />
<rect x="84.70" y="279.50" width="1.6" height="2.0" fill="#333"/>
<line x1="85.50" y1="282.10" x2="85.50" y2="292.20" stroke="#303030" stroke-width="1.15" />
<line x1="73.90" y1="275.80" x2="73.90" y2="282.10" stroke="#303030" stroke-width="1.15" />
<rect x="73.10" y="284.20" width="1.6" height="2.0" fill="#333"/>
<line x1="73.90" y1="286.90" x2="73.90" y2="296.10" stroke="#303030" stroke-width="1.15" />
<line x1="51.60" y1="279.50" x2="51.60" y2="283.80" stroke="#303030" stroke-width="1.15" />
<rect x="50.80" y="286.50" width="1.6" height="2.0" fill="#333"/>
<line x1="51.60" y1="289.90" x2="51.60" y2="296.50" stroke="#303030" stroke-width="1.15" />
<line x1="115.50" y1="68.50" x2="115.50" y2="71.80" stroke="#3c3c3c" stroke-width="1.1" />
<line x1="115.50" y1="93.80" x2="115.50" y2="100.40" stroke="#3c3c3c" stroke-width="1.1" />
<line x1="113.00" y1="68.50" x2="118.00" y2="68.50" stroke="#222" stroke-width="1.2" />
<line x1="113.00" y1="100.40" x2="118.00" y2="100.40" stroke="#222" stroke-width="1.2" />
<rect x="111.50" y="71.80" width="8.00" height="22.00" fill="#3c309c" stroke="#2a2a2a" stroke-width="1"/>
<line x1="111.50" y1="81.20" x2="119.50" y2="81.20" stroke="rgba(0,0,0,0.55)" stroke-width="1.0" />
<line x1="126.80" y1="87.70" x2="126.80" y2="94.70" stroke="#3c3c3c" stroke-width="1.1" />
<line x1="126.80" y1="103.50" x2="126.80" y2="111.80" stroke="#3c3c3c" stroke-width="1.1" />
<line x1="124.30" y1="87.70" x2="129.30" y2="87.70" stroke="#222" stroke-width="1.2" />
<line x1="124.30" y1="111.80" x2="129.30" y2="111.80" stroke="#222" stroke-width="1.2" />
<rect x="122.80" y="94.70" width="8.00" height="8.80" fill="#ee302a" stroke="#2a2a2a" stroke-width="1"/>
<line x1="122.80" y1="100.20" x2="130.80" y2="100.20" stroke="rgba(0,0,0,0.55)" stroke-width="1.0" />
<line x1="137.90" y1="80.00" x2="137.90" y2="89.40" stroke="#3c3c3c" stroke-width="1.1" />
<line x1="137.90" y1="103.50" x2="137.90" y2="107.00" stroke="#3c3c3c" stroke-width="1.1" />
<line x1="135.40" y1="80.00" x2="140.40" y2="80.00" stroke="#222" stroke-width="1.2" />
<line x1="135.40" y1="107.00" x2="140.40" y2="107.00" stroke="#222" stroke-width="1.2" />
<rect x="133.90" y="89.40" width="8.00" height="14.10" fill="#f4821f" stroke="#2a2a2a" stroke-width="1"/>
<line x1="133.90" y1="100.40" x2="141.90" y2="100.40" stroke="rgba(0,0,0,0.55)" stroke-width="1.0" />
<line x1="149.10" y1="78.20" x2="149.10" y2="86.00" stroke="#3c3c3c" stroke-width="1.1" />
<line x1="149.10" y1="109.00" x2="149.10" y2="115.80" stroke="#3c3c3c" stroke-width="1.1" />
<line x1="146.60" y1="78.20" x2="151.60" y2="78.20" stroke="#222" stroke-width="1.2" />
<line x1="146.60" y1="115.80" x2="151.60" y2="115.80" stroke="#222" stroke-width="1.2" />
<rect x="145.10" y="86.00" width="8.00" height="23.00" fill="#fac65c" stroke="#2a2a2a" stroke-width="1"/>
<line x1="145.10" y1="100.50" x2="153.10" y2="100.50" stroke="rgba(0,0,0,0.55)" stroke-width="1.0" />
<line x1="160.40" y1="78.00" x2="160.40" y2="84.40" stroke="#3c3c3c" stroke-width="1.1" />
<line x1="160.40" y1="109.40" x2="160.40" y2="131.40" stroke="#3c3c3c" stroke-width="1.1" />
<line x1="157.90" y1="78.00" x2="162.90" y2="78.00" stroke="#222" stroke-width="1.2" />
<line x1="157.90" y1="131.40" x2="162.90" y2="131.40" stroke="#222" stroke-width="1.2" />
<rect x="156.40" y="84.40" width="8.00" height="25.00" fill="#bedc6c" stroke="#2a2a2a" stroke-width="1"/>
<line x1="156.40" y1="94.40" x2="164.40" y2="94.40" stroke="rgba(0,0,0,0.55)" stroke-width="1.0" />
<line x1="171.80" y1="94.40" x2="171.80" y2="95.10" stroke="#3c3c3c" stroke-width="1.1" />
<line x1="171.80" y1="117.50" x2="171.80" y2="134.00" stroke="#3c3c3c" stroke-width="1.1" />
<line x1="169.30" y1="94.40" x2="174.30" y2="94.40" stroke="#222" stroke-width="1.2" />
<line x1="169.30" y1="134.00" x2="174.30" y2="134.00" stroke="#222" stroke-width="1.2" />
<rect x="167.80" y="95.10" width="8.00" height="22.40" fill="#7b2791" stroke="#2a2a2a" stroke-width="1"/>
<line x1="167.80" y1="100.50" x2="175.80" y2="100.50" stroke="rgba(0,0,0,0.55)" stroke-width="1.0" />
<line x1="114.90" y1="59.70" x2="172.40" y2="59.70" stroke="#303030" stroke-width="1.15" />
<line x1="115.40" y1="59.70" x2="115.40" y2="64.60" stroke="#303030" stroke-width="1.15" />
<line x1="171.90" y1="59.70" x2="171.90" y2="91.00" stroke="#303030" stroke-width="1.15" />
<rect x="141.60" y="55.50" width="1.6" height="2.0" fill="#333"/>
<line x1="190.60" y1="61.80" x2="190.60" y2="64.00" stroke="#3c3c3c" stroke-width="1.1" />
<line x1="190.60" y1="72.50" x2="190.60" y2="83.80" stroke="#3c3c3c" stroke-width="1.1" />
<line x1="188.10" y1="61.80" x2="193.10" y2="61.80" stroke="#222" stroke-width="1.2" />
<line x1="188.10" y1="83.80" x2="193.10" y2="83.80" stroke="#222" stroke-width="1.2" />
<rect x="186.60" y="64.00" width="8.00" height="8.50" fill="#3c309c" stroke="#2a2a2a" stroke-width="1"/>
<line x1="186.60" y1="68.20" x2="194.60" y2="68.20" stroke="rgba(0,0,0,0.55)" stroke-width="1.0" />
<line x1="201.80" y1="66.70" x2="201.80" y2="69.40" stroke="#3c3c3c" stroke-width="1.1" />
<line x1="201.80" y1="80.50" x2="201.80" y2="88.30" stroke="#3c3c3c" stroke-width="1.1" />
<line x1="199.30" y1="66.70" x2="204.30" y2="66.70" stroke="#222" stroke-width="1.2" />
<line x1="199.30" y1="88.30" x2="204.30" y2="88.30" stroke="#222" stroke-width="1.2" />
<rect x="197.80" y="69.40" width="8.00" height="11.10" fill="#ee302a" stroke="#2a2a2a" stroke-width="1"/>
<line x1="197.80" y1="74.20" x2="205.80" y2="74.20" stroke="rgba(0,0,0,0.55)" stroke-width="1.0" />
<line x1="212.80" y1="63.60" x2="212.80" y2="67.70" stroke="#3c3c3c" stroke-width="1.1" />
<line x1="212.80" y1="71.70" x2="212.80" y2="72.00" stroke="#3c3c3c" stroke-width="1.1" />
<line x1="210.30" y1="63.60" x2="215.30" y2="63.60" stroke="#222" stroke-width="1.2" />
<line x1="210.30" y1="72.00" x2="215.30" y2="72.00" stroke="#222" stroke-width="1.2" />
<rect x="208.80" y="67.70" width="8.00" height="4.00" fill="#f4821f" stroke="#2a2a2a" stroke-width="1"/>
<line x1="208.80" y1="69.60" x2="216.80" y2="69.60" stroke="rgba(0,0,0,0.55)" stroke-width="1.0" />
<line x1="224.50" y1="67.90" x2="224.50" y2="69.00" stroke="#3c3c3c" stroke-width="1.1" />
<line x1="224.50" y1="74.50" x2="224.50" y2="91.00" stroke="#3c3c3c" stroke-width="1.1" />
<line x1="222.00" y1="67.90" x2="227.00" y2="67.90" stroke="#222" stroke-width="1.2" />
<line x1="222.00" y1="91.00" x2="227.00" y2="91.00" stroke="#222" stroke-width="1.2" />
<rect x="220.50" y="69.00" width="8.00" height="5.50" fill="#fac65c" stroke="#2a2a2a" stroke-width="1"/>
<line x1="220.50" y1="71.20" x2="228.50" y2="71.20" stroke="rgba(0,0,0,0.55)" stroke-width="1.0" />
<line x1="235.70" y1="64.20" x2="235.70" y2="64.40" stroke="#3c3c3c" stroke-width="1.1" />
<line x1="235.70" y1="94.30" x2="235.70" y2="101.60" stroke="#3c3c3c" stroke-width="1.1" />
<line x1="233.20" y1="64.20" x2="238.20" y2="64.20" stroke="#222" stroke-width="1.2" />
<line x1="233.20" y1="101.60" x2="238.20" y2="101.60" stroke="#222" stroke-width="1.2" />
<rect x="231.70" y="64.40" width="8.00" height="29.90" fill="#bedc6c" stroke="#2a2a2a" stroke-width="1"/>
<line x1="231.70" y1="71.20" x2="239.70" y2="71.20" stroke="rgba(0,0,0,0.55)" stroke-width="1.0" />
<line x1="247.00" y1="66.40" x2="247.00" y2="71.90" stroke="#3c3c3c" stroke-width="1.1" />
<line x1="247.00" y1="96.10" x2="247.00" y2="131.50" stroke="#3c3c3c" stroke-width="1.1" />
<line x1="244.50" y1="66.40" x2="249.50" y2="66.40" stroke="#222" stroke-width="1.2" />
<line x1="244.50" y1="131.50" x2="249.50" y2="131.50" stroke="#222" stroke-width="1.2" />
<rect x="243.00" y="71.90" width="8.00" height="24.20" fill="#7b2791" stroke="#2a2a2a" stroke-width="1"/>
<line x1="243.00" y1="79.60" x2="251.00" y2="79.60" stroke="rgba(0,0,0,0.55)" stroke-width="1.0" />
<line x1="266.00" y1="54.60" x2="266.00" y2="60.50" stroke="#222" stroke-width="1.1" />
<line x1="263.40" y1="60.60" x2="268.60" y2="60.60" stroke="#111" stroke-width="1.1" />
<path d="M261.6,54.7 L270.2,54.7 Q270.0,51.0 265.9,51.0 Q261.8,51.0 261.6,54.7 Z" fill="#16123a" stroke="#111" stroke-width="0.6"/>
<line x1="277.00" y1="98.10" x2="277.00" y2="98.70" stroke="#3c3c3c" stroke-width="1.1" />
<line x1="277.00" y1="122.50" x2="277.00" y2="168.30" stroke="#3c3c3c" stroke-width="1.1" />
<line x1="274.50" y1="98.10" x2="279.50" y2="98.10" stroke="#222" stroke-width="1.2" />
<line x1="274.50" y1="168.30" x2="279.50" y2="168.30" stroke="#222" stroke-width="1.2" />
<rect x="273.00" y="98.70" width="8.00" height="23.80" fill="#ee302a" stroke="#2a2a2a" stroke-width="1"/>
<line x1="273.00" y1="110.00" x2="281.00" y2="110.00" stroke="rgba(0,0,0,0.55)" stroke-width="1.0" />
<line x1="288.20" y1="99.20" x2="288.20" y2="105.50" stroke="#3c3c3c" stroke-width="1.1" />
<line x1="288.20" y1="157.60" x2="288.20" y2="192.70" stroke="#3c3c3c" stroke-width="1.1" />
<line x1="285.70" y1="99.20" x2="290.70" y2="99.20" stroke="#222" stroke-width="1.2" />
<line x1="285.70" y1="192.70" x2="290.70" y2="192.70" stroke="#222" stroke-width="1.2" />
<rect x="284.20" y="105.50" width="8.00" height="52.10" fill="#f4821f" stroke="#2a2a2a" stroke-width="1"/>
<line x1="284.20" y1="122.50" x2="292.20" y2="122.50" stroke="rgba(0,0,0,0.55)" stroke-width="1.0" />
<line x1="299.50" y1="96.30" x2="299.50" y2="104.50" stroke="#3c3c3c" stroke-width="1.1" />
<line x1="299.50" y1="110.40" x2="299.50" y2="114.30" stroke="#3c3c3c" stroke-width="1.1" />
<line x1="297.00" y1="96.30" x2="302.00" y2="96.30" stroke="#222" stroke-width="1.2" />
<line x1="297.00" y1="114.30" x2="302.00" y2="114.30" stroke="#222" stroke-width="1.2" />
<rect x="295.50" y="104.50" width="8.00" height="5.90" fill="#fac65c" stroke="#2a2a2a" stroke-width="1"/>
<line x1="295.50" y1="107.40" x2="303.50" y2="107.40" stroke="rgba(0,0,0,0.55)" stroke-width="1.0" />
<line x1="310.70" y1="98.50" x2="310.70" y2="99.00" stroke="#3c3c3c" stroke-width="1.1" />
<line x1="310.70" y1="153.70" x2="310.70" y2="199.10" stroke="#3c3c3c" stroke-width="1.1" />
<line x1="308.20" y1="98.50" x2="313.20" y2="98.50" stroke="#222" stroke-width="1.2" />
<line x1="308.20" y1="199.10" x2="313.20" y2="199.10" stroke="#222" stroke-width="1.2" />
<rect x="306.70" y="99.00" width="8.00" height="54.70" fill="#bedc6c" stroke="#2a2a2a" stroke-width="1"/>
<line x1="306.70" y1="104.90" x2="314.70" y2="104.90" stroke="rgba(0,0,0,0.55)" stroke-width="1.0" />
<line x1="322.10" y1="88.50" x2="322.10" y2="93.30" stroke="#3c3c3c" stroke-width="1.1" />
<line x1="322.10" y1="104.90" x2="322.10" y2="114.30" stroke="#3c3c3c" stroke-width="1.1" />
<line x1="319.60" y1="88.50" x2="324.60" y2="88.50" stroke="#222" stroke-width="1.2" />
<line x1="319.60" y1="114.30" x2="324.60" y2="114.30" stroke="#222" stroke-width="1.2" />
<rect x="318.10" y="93.30" width="8.00" height="11.60" fill="#7b2791" stroke="#2a2a2a" stroke-width="1"/>
<line x1="318.10" y1="96.90" x2="326.10" y2="96.90" stroke="rgba(0,0,0,0.55)" stroke-width="1.0" />
<line x1="270.50" y1="54.10" x2="302.10" y2="54.10" stroke="#303030" stroke-width="1.15" />
<rect x="283.10" y="49.90" width="1.6" height="2.0" fill="#333"/>
<rect x="285.50" y="49.90" width="1.6" height="2.0" fill="#333"/>
<rect x="287.90" y="49.90" width="1.6" height="2.0" fill="#333"/>
<line x1="301.60" y1="54.10" x2="301.60" y2="71.60" stroke="#303030" stroke-width="1.15" />
<line x1="276.30" y1="71.60" x2="322.40" y2="71.60" stroke="#303030" stroke-width="1.15" />
<line x1="276.80" y1="71.60" x2="276.80" y2="94.00" stroke="#303030" stroke-width="1.15" />
<line x1="321.90" y1="71.60" x2="321.90" y2="73.30" stroke="#303030" stroke-width="1.15" />
<line x1="287.60" y1="76.50" x2="322.40" y2="76.50" stroke="#303030" stroke-width="1.15" />
<line x1="288.10" y1="76.50" x2="288.10" y2="94.60" stroke="#303030" stroke-width="1.15" />
<line x1="321.90" y1="76.50" x2="321.90" y2="78.20" stroke="#303030" stroke-width="1.15" />
<line x1="287.60" y1="80.10" x2="299.90" y2="80.10" stroke="#303030" stroke-width="1.15" />
<line x1="299.40" y1="80.10" x2="299.40" y2="81.80" stroke="#303030" stroke-width="1.15" />
<rect x="297.40" y="84.00" width="1.6" height="2.0" fill="#333"/>
<rect x="299.80" y="84.00" width="1.6" height="2.0" fill="#333"/>
<line x1="299.40" y1="87.20" x2="299.40" y2="93.60" stroke="#303030" stroke-width="1.15" />
<rect x="318.90" y="79.40" width="1.6" height="2.0" fill="#333"/>
<rect x="321.30" y="79.40" width="1.6" height="2.0" fill="#333"/>
<rect x="323.70" y="79.40" width="1.6" height="2.0" fill="#333"/>
<line x1="310.10" y1="82.60" x2="322.40" y2="82.60" stroke="#303030" stroke-width="1.15" />
<line x1="321.90" y1="82.60" x2="321.90" y2="85.50" stroke="#303030" stroke-width="1.15" />
<line x1="310.60" y1="82.60" x2="310.60" y2="86.00" stroke="#303030" stroke-width="1.15" />
<rect x="308.60" y="87.60" width="1.6" height="2.0" fill="#333"/>
<rect x="311.00" y="87.60" width="1.6" height="2.0" fill="#333"/>
<line x1="310.60" y1="90.60" x2="310.60" y2="95.00" stroke="#303030" stroke-width="1.15" />
<line x1="341.00" y1="62.40" x2="341.00" y2="64.10" stroke="#3c3c3c" stroke-width="1.1" />
<line x1="341.00" y1="68.00" x2="341.00" y2="71.70" stroke="#3c3c3c" stroke-width="1.1" />
<line x1="338.50" y1="62.40" x2="343.50" y2="62.40" stroke="#222" stroke-width="1.2" />
<line x1="338.50" y1="71.70" x2="343.50" y2="71.70" stroke="#222" stroke-width="1.2" />
<rect x="337.00" y="64.10" width="8.00" height="3.90" fill="#3c309c" stroke="#2a2a2a" stroke-width="1"/>
<line x1="337.00" y1="66.00" x2="345.00" y2="66.00" stroke="rgba(0,0,0,0.55)" stroke-width="1.0" />
<line x1="352.10" y1="60.20" x2="352.10" y2="64.30" stroke="#3c3c3c" stroke-width="1.1" />
<line x1="352.10" y1="87.70" x2="352.10" y2="91.10" stroke="#3c3c3c" stroke-width="1.1" />
<line x1="349.60" y1="60.20" x2="354.60" y2="60.20" stroke="#222" stroke-width="1.2" />
<line x1="349.60" y1="91.10" x2="354.60" y2="91.10" stroke="#222" stroke-width="1.2" />
<rect x="348.10" y="64.30" width="8.00" height="23.40" fill="#ee302a" stroke="#2a2a2a" stroke-width="1"/>
<line x1="348.10" y1="84.50" x2="356.10" y2="84.50" stroke="rgba(0,0,0,0.55)" stroke-width="1.0" />
<line x1="363.40" y1="57.30" x2="363.40" y2="67.60" stroke="#3c3c3c" stroke-width="1.1" />
<line x1="363.40" y1="85.00" x2="363.40" y2="94.20" stroke="#3c3c3c" stroke-width="1.1" />
<line x1="360.90" y1="57.30" x2="365.90" y2="57.30" stroke="#222" stroke-width="1.2" />
<line x1="360.90" y1="94.20" x2="365.90" y2="94.20" stroke="#222" stroke-width="1.2" />
<rect x="359.40" y="67.60" width="8.00" height="17.40" fill="#f4821f" stroke="#2a2a2a" stroke-width="1"/>
<line x1="359.40" y1="83.20" x2="367.40" y2="83.20" stroke="rgba(0,0,0,0.55)" stroke-width="1.0" />
<line x1="374.50" y1="60.30" x2="374.50" y2="64.00" stroke="#3c3c3c" stroke-width="1.1" />
<line x1="374.50" y1="95.20" x2="374.50" y2="105.40" stroke="#3c3c3c" stroke-width="1.1" />
<line x1="372.00" y1="60.30" x2="377.00" y2="60.30" stroke="#222" stroke-width="1.2" />
<line x1="372.00" y1="105.40" x2="377.00" y2="105.40" stroke="#222" stroke-width="1.2" />
<rect x="370.50" y="64.00" width="8.00" height="31.20" fill="#fac65c" stroke="#2a2a2a" stroke-width="1"/>
<line x1="370.50" y1="85.70" x2="378.50" y2="85.70" stroke="rgba(0,0,0,0.55)" stroke-width="1.0" />
<line x1="385.80" y1="55.70" x2="385.80" y2="58.20" stroke="#3c3c3c" stroke-width="1.1" />
<line x1="385.80" y1="105.10" x2="385.80" y2="116.00" stroke="#3c3c3c" stroke-width="1.1" />
<line x1="383.30" y1="55.70" x2="388.30" y2="55.70" stroke="#222" stroke-width="1.2" />
<line x1="383.30" y1="116.00" x2="388.30" y2="116.00" stroke="#222" stroke-width="1.2" />
<rect x="381.80" y="58.20" width="8.00" height="46.90" fill="#bedc6c" stroke="#2a2a2a" stroke-width="1"/>
<line x1="381.80" y1="89.30" x2="389.80" y2="89.30" stroke="rgba(0,0,0,0.55)" stroke-width="1.0" />
<line x1="397.00" y1="63.00" x2="397.00" y2="69.20" stroke="#3c3c3c" stroke-width="1.1" />
<line x1="397.00" y1="96.70" x2="397.00" y2="119.40" stroke="#3c3c3c" stroke-width="1.1" />
<line x1="394.50" y1="63.00" x2="399.50" y2="63.00" stroke="#222" stroke-width="1.2" />
<line x1="394.50" y1="119.40" x2="399.50" y2="119.40" stroke="#222" stroke-width="1.2" />
<rect x="393.00" y="69.20" width="8.00" height="27.50" fill="#7b2791" stroke="#2a2a2a" stroke-width="1"/>
<line x1="393.00" y1="85.80" x2="401.00" y2="85.80" stroke="rgba(0,0,0,0.55)" stroke-width="1.0" />
<line x1="346.30" y1="69.00" x2="346.30" y2="117.10" stroke="#3a3a3a" stroke-width="1.0" />
<line x1="115.20" y1="292.80" x2="115.20" y2="293.40" stroke="#3c3c3c" stroke-width="1.1" />
<line x1="115.20" y1="300.00" x2="115.20" y2="303.50" stroke="#3c3c3c" stroke-width="1.1" />
<line x1="112.70" y1="292.80" x2="117.70" y2="292.80" stroke="#222" stroke-width="1.2" />
<line x1="112.70" y1="303.50" x2="117.70" y2="303.50" stroke="#222" stroke-width="1.2" />
<rect x="111.20" y="293.40" width="8.00" height="6.60" fill="#3c309c" stroke="#2a2a2a" stroke-width="1"/>
<line x1="111.20" y1="296.70" x2="119.20" y2="296.70" stroke="rgba(0,0,0,0.55)" stroke-width="1.0" />
<line x1="126.50" y1="318.80" x2="126.50" y2="328.30" stroke="#3c3c3c" stroke-width="1.1" />
<line x1="126.50" y1="359.30" x2="126.50" y2="364.20" stroke="#3c3c3c" stroke-width="1.1" />
<line x1="124.00" y1="318.80" x2="129.00" y2="318.80" stroke="#222" stroke-width="1.2" />
<line x1="124.00" y1="364.20" x2="129.00" y2="364.20" stroke="#222" stroke-width="1.2" />
<rect x="122.50" y="328.30" width="8.00" height="31.00" fill="#ee302a" stroke="#2a2a2a" stroke-width="1"/>
<line x1="122.50" y1="351.30" x2="130.50" y2="351.30" stroke="rgba(0,0,0,0.55)" stroke-width="1.0" />
<line x1="137.70" y1="317.90" x2="137.70" y2="320.50" stroke="#3c3c3c" stroke-width="1.1" />
<line x1="137.70" y1="332.40" x2="137.70" y2="344.40" stroke="#3c3c3c" stroke-width="1.1" />
<line x1="135.20" y1="317.90" x2="140.20" y2="317.90" stroke="#222" stroke-width="1.2" />
<line x1="135.20" y1="344.40" x2="140.20" y2="344.40" stroke="#222" stroke-width="1.2" />
<rect x="133.70" y="320.50" width="8.00" height="11.90" fill="#f4821f" stroke="#2a2a2a" stroke-width="1"/>
<line x1="133.70" y1="325.00" x2="141.70" y2="325.00" stroke="rgba(0,0,0,0.55)" stroke-width="1.0" />
<line x1="148.90" y1="319.70" x2="148.90" y2="324.00" stroke="#3c3c3c" stroke-width="1.1" />
<line x1="148.90" y1="347.80" x2="148.90" y2="356.40" stroke="#3c3c3c" stroke-width="1.1" />
<line x1="146.40" y1="319.70" x2="151.40" y2="319.70" stroke="#222" stroke-width="1.2" />
<line x1="146.40" y1="356.40" x2="151.40" y2="356.40" stroke="#222" stroke-width="1.2" />
<rect x="144.90" y="324.00" width="8.00" height="23.80" fill="#fac65c" stroke="#2a2a2a" stroke-width="1"/>
<line x1="144.90" y1="343.10" x2="152.90" y2="343.10" stroke="rgba(0,0,0,0.55)" stroke-width="1.0" />
<line x1="160.30" y1="299.60" x2="160.30" y2="322.20" stroke="#3c3c3c" stroke-width="1.1" />
<line x1="160.30" y1="356.10" x2="160.30" y2="358.60" stroke="#3c3c3c" stroke-width="1.1" />
<line x1="157.80" y1="299.60" x2="162.80" y2="299.60" stroke="#222" stroke-width="1.2" />
<line x1="157.80" y1="358.60" x2="162.80" y2="358.60" stroke="#222" stroke-width="1.2" />
<rect x="156.30" y="322.20" width="8.00" height="33.90" fill="#bedc6c" stroke="#2a2a2a" stroke-width="1"/>
<line x1="156.30" y1="336.70" x2="164.30" y2="336.70" stroke="rgba(0,0,0,0.55)" stroke-width="1.0" />
<line x1="171.70" y1="329.30" x2="171.70" y2="331.80" stroke="#3c3c3c" stroke-width="1.1" />
<line x1="171.70" y1="374.10" x2="171.70" y2="386.40" stroke="#3c3c3c" stroke-width="1.1" />
<line x1="169.20" y1="329.30" x2="174.20" y2="329.30" stroke="#222" stroke-width="1.2" />
<line x1="169.20" y1="386.40" x2="174.20" y2="386.40" stroke="#222" stroke-width="1.2" />
<rect x="167.70" y="331.80" width="8.00" height="42.30" fill="#7b2791" stroke="#2a2a2a" stroke-width="1"/>
<line x1="167.70" y1="344.40" x2="175.70" y2="344.40" stroke="rgba(0,0,0,0.55)" stroke-width="1.0" />
<line x1="115.20" y1="269.80" x2="115.20" y2="289.30" stroke="#303030" stroke-width="1.15" />
<line x1="114.70" y1="269.80" x2="172.20" y2="269.80" stroke="#303030" stroke-width="1.15" />
<line x1="114.70" y1="273.70" x2="160.80" y2="273.70" stroke="#303030" stroke-width="1.15" />
<line x1="114.70" y1="277.60" x2="149.40" y2="277.60" stroke="#303030" stroke-width="1.15" />
<line x1="114.70" y1="281.70" x2="138.20" y2="281.70" stroke="#303030" stroke-width="1.15" />
<line x1="114.70" y1="285.60" x2="127.00" y2="285.60" stroke="#303030" stroke-width="1.15" />
<line x1="137.20" y1="266.60" x2="151.50" y2="266.60" stroke="#303030" stroke-width="1.15" />
<line x1="159.30" y1="266.60" x2="172.20" y2="266.60" stroke="#303030" stroke-width="1.15" />
<line x1="137.70" y1="266.60" x2="137.70" y2="269.80" stroke="#303030" stroke-width="1.15" />
<rect x="154.60" y="265.40" width="1.6" height="2.0" fill="#333"/>
<line x1="126.50" y1="285.60" x2="126.50" y2="289.50" stroke="#303030" stroke-width="1.15" />
<rect x="123.30" y="292.20" width="1.6" height="2.0" fill="#333"/>
<rect x="125.70" y="292.20" width="1.6" height="2.0" fill="#333"/>
<rect x="128.10" y="292.20" width="1.6" height="2.0" fill="#333"/>
<line x1="126.50" y1="295.30" x2="126.50" y2="316.50" stroke="#303030" stroke-width="1.15" />
<line x1="137.70" y1="281.70" x2="137.70" y2="288.80" stroke="#303030" stroke-width="1.15" />
<rect x="135.70" y="290.60" width="1.6" height="2.0" fill="#333"/>
<rect x="138.10" y="290.60" width="1.6" height="2.0" fill="#333"/>
<line x1="137.70" y1="293.60" x2="137.70" y2="316.30" stroke="#303030" stroke-width="1.15" />
<line x1="148.90" y1="277.60" x2="148.90" y2="288.60" stroke="#303030" stroke-width="1.15" />
<rect x="145.70" y="290.60" width="1.6" height="2.0" fill="#333"/>
<rect x="148.10" y="290.60" width="1.6" height="2.0" fill="#333"/>
<rect x="150.50" y="290.60" width="1.6" height="2.0" fill="#333"/>
<line x1="148.90" y1="294.00" x2="148.90" y2="317.50" stroke="#303030" stroke-width="1.15" />
<line x1="160.30" y1="273.70" x2="160.30" y2="279.60" stroke="#303030" stroke-width="1.15" />
<rect x="157.10" y="281.60" width="1.6" height="2.0" fill="#333"/>
<rect x="159.50" y="281.60" width="1.6" height="2.0" fill="#333"/>
<rect x="161.90" y="281.60" width="1.6" height="2.0" fill="#333"/>
<line x1="160.30" y1="285.00" x2="160.30" y2="298.20" stroke="#303030" stroke-width="1.15" />
<line x1="171.70" y1="266.60" x2="171.70" y2="283.40" stroke="#303030" stroke-width="1.15" />
<rect x="168.50" y="285.40" width="1.6" height="2.0" fill="#333"/>
<rect x="170.90" y="285.40" width="1.6" height="2.0" fill="#333"/>
<rect x="173.30" y="285.40" width="1.6" height="2.0" fill="#333"/>
<line x1="171.70" y1="289.00" x2="171.70" y2="326.70" stroke="#303030" stroke-width="1.15" />
<line x1="190.70" y1="295.00" x2="190.70" y2="296.60" stroke="#3c3c3c" stroke-width="1.1" />
<line x1="190.70" y1="308.70" x2="190.70" y2="310.20" stroke="#3c3c3c" stroke-width="1.1" />
<line x1="188.20" y1="295.00" x2="193.20" y2="295.00" stroke="#222" stroke-width="1.2" />
<line x1="188.20" y1="310.20" x2="193.20" y2="310.20" stroke="#222" stroke-width="1.2" />
<rect x="186.70" y="296.60" width="8.00" height="12.10" fill="#3c309c" stroke="#2a2a2a" stroke-width="1"/>
<line x1="186.70" y1="301.80" x2="194.70" y2="301.80" stroke="rgba(0,0,0,0.55)" stroke-width="1.0" />
<line x1="201.40" y1="326.50" x2="201.40" y2="329.10" stroke="#3c3c3c" stroke-width="1.1" />
<line x1="201.40" y1="348.60" x2="201.40" y2="356.40" stroke="#3c3c3c" stroke-width="1.1" />
<line x1="198.90" y1="326.50" x2="203.90" y2="326.50" stroke="#222" stroke-width="1.2" />
<line x1="198.90" y1="356.40" x2="203.90" y2="356.40" stroke="#222" stroke-width="1.2" />
<rect x="197.40" y="329.10" width="8.00" height="19.50" fill="#ee302a" stroke="#2a2a2a" stroke-width="1"/>
<line x1="197.40" y1="333.40" x2="205.40" y2="333.40" stroke="rgba(0,0,0,0.55)" stroke-width="1.0" />
<line x1="213.00" y1="324.40" x2="213.00" y2="327.60" stroke="#3c3c3c" stroke-width="1.1" />
<line x1="213.00" y1="332.40" x2="213.00" y2="347.10" stroke="#3c3c3c" stroke-width="1.1" />
<line x1="210.50" y1="324.40" x2="215.50" y2="324.40" stroke="#222" stroke-width="1.2" />
<line x1="210.50" y1="347.10" x2="215.50" y2="347.10" stroke="#222" stroke-width="1.2" />
<rect x="209.00" y="327.60" width="8.00" height="4.80" fill="#f4821f" stroke="#2a2a2a" stroke-width="1"/>
<line x1="209.00" y1="329.50" x2="217.00" y2="329.50" stroke="rgba(0,0,0,0.55)" stroke-width="1.0" />
<line x1="224.20" y1="326.60" x2="224.20" y2="335.00" stroke="#3c3c3c" stroke-width="1.1" />
<line x1="224.20" y1="346.10" x2="224.20" y2="356.40" stroke="#3c3c3c" stroke-width="1.1" />
<line x1="221.70" y1="326.60" x2="226.70" y2="326.60" stroke="#222" stroke-width="1.2" />
<line x1="221.70" y1="356.40" x2="226.70" y2="356.40" stroke="#222" stroke-width="1.2" />
<rect x="220.20" y="335.00" width="8.00" height="11.10" fill="#fac65c" stroke="#2a2a2a" stroke-width="1"/>
<line x1="220.20" y1="340.20" x2="228.20" y2="340.20" stroke="rgba(0,0,0,0.55)" stroke-width="1.0" />
<line x1="235.80" y1="323.40" x2="235.80" y2="336.00" stroke="#3c3c3c" stroke-width="1.1" />
<line x1="235.80" y1="356.40" x2="235.80" y2="357.80" stroke="#3c3c3c" stroke-width="1.1" />
<line x1="233.30" y1="323.40" x2="238.30" y2="323.40" stroke="#222" stroke-width="1.2" />
<line x1="233.30" y1="357.80" x2="238.30" y2="357.80" stroke="#222" stroke-width="1.2" />
<rect x="231.80" y="336.00" width="8.00" height="20.40" fill="#bedc6c" stroke="#2a2a2a" stroke-width="1"/>
<line x1="231.80" y1="343.20" x2="239.80" y2="343.20" stroke="rgba(0,0,0,0.55)" stroke-width="1.0" />
<line x1="246.90" y1="325.00" x2="246.90" y2="329.10" stroke="#3c3c3c" stroke-width="1.1" />
<line x1="246.90" y1="343.20" x2="246.90" y2="355.90" stroke="#3c3c3c" stroke-width="1.1" />
<line x1="244.40" y1="325.00" x2="249.40" y2="325.00" stroke="#222" stroke-width="1.2" />
<line x1="244.40" y1="355.90" x2="249.40" y2="355.90" stroke="#222" stroke-width="1.2" />
<rect x="242.90" y="329.10" width="8.00" height="14.10" fill="#7b2791" stroke="#2a2a2a" stroke-width="1"/>
<line x1="242.90" y1="337.30" x2="250.90" y2="337.30" stroke="rgba(0,0,0,0.55)" stroke-width="1.0" />
<line x1="190.80" y1="271.50" x2="190.80" y2="290.90" stroke="#303030" stroke-width="1.15" />
<line x1="190.30" y1="271.50" x2="247.40" y2="271.50" stroke="#303030" stroke-width="1.15" />
<line x1="190.30" y1="275.10" x2="236.30" y2="275.10" stroke="#303030" stroke-width="1.15" />
<line x1="190.30" y1="278.80" x2="224.70" y2="278.80" stroke="#303030" stroke-width="1.15" />
<line x1="190.30" y1="282.90" x2="213.50" y2="282.90" stroke="#303030" stroke-width="1.15" />
<line x1="190.30" y1="286.80" x2="201.90" y2="286.80" stroke="#303030" stroke-width="1.15" />
<line x1="201.40" y1="286.80" x2="201.40" y2="291.90" stroke="#303030" stroke-width="1.15" />
<rect x="198.20" y="293.80" width="1.6" height="2.0" fill="#333"/>
<rect x="200.60" y="293.80" width="1.6" height="2.0" fill="#333"/>
<rect x="203.00" y="293.80" width="1.6" height="2.0" fill="#333"/>
<line x1="201.40" y1="297.10" x2="201.40" y2="322.00" stroke="#303030" stroke-width="1.15" />
<line x1="213.00" y1="282.90" x2="213.00" y2="289.60" stroke="#303030" stroke-width="1.15" />
<rect x="211.00" y="291.60" width="1.6" height="2.0" fill="#333"/>
<rect x="213.40" y="291.60" width="1.6" height="2.0" fill="#333"/>
<line x1="213.00" y1="294.80" x2="213.00" y2="319.80" stroke="#303030" stroke-width="1.15" />
<line x1="224.20" y1="278.80" x2="224.20" y2="290.20" stroke="#303030" stroke-width="1.15" />
<rect x="221.00" y="292.10" width="1.6" height="2.0" fill="#333"/>
<rect x="223.40" y="292.10" width="1.6" height="2.0" fill="#333"/>
<rect x="225.80" y="292.10" width="1.6" height="2.0" fill="#333"/>
<line x1="224.20" y1="296.20" x2="224.20" y2="322.70" stroke="#303030" stroke-width="1.15" />
<line x1="235.80" y1="275.10" x2="235.80" y2="281.20" stroke="#303030" stroke-width="1.15" />
<rect x="232.60" y="282.90" width="1.6" height="2.0" fill="#333"/>
<rect x="235.00" y="282.90" width="1.6" height="2.0" fill="#333"/>
<rect x="237.40" y="282.90" width="1.6" height="2.0" fill="#333"/>
<line x1="235.80" y1="286.60" x2="235.80" y2="317.60" stroke="#303030" stroke-width="1.15" />
<line x1="246.90" y1="271.50" x2="246.90" y2="285.00" stroke="#303030" stroke-width="1.15" />
<rect x="243.70" y="286.90" width="1.6" height="2.0" fill="#333"/>
<rect x="246.10" y="286.90" width="1.6" height="2.0" fill="#333"/>
<rect x="248.50" y="286.90" width="1.6" height="2.0" fill="#333"/>
<line x1="246.90" y1="290.50" x2="246.90" y2="319.80" stroke="#303030" stroke-width="1.15" />
<line x1="265.80" y1="304.50" x2="265.80" y2="309.00" stroke="#3c3c3c" stroke-width="1.1" />
<line x1="265.80" y1="325.60" x2="265.80" y2="332.30" stroke="#3c3c3c" stroke-width="1.1" />
<line x1="263.30" y1="304.50" x2="268.30" y2="304.50" stroke="#222" stroke-width="1.2" />
<line x1="263.30" y1="332.30" x2="268.30" y2="332.30" stroke="#222" stroke-width="1.2" />
<rect x="261.80" y="309.00" width="8.00" height="16.60" fill="#3c309c" stroke="#2a2a2a" stroke-width="1"/>
<line x1="261.80" y1="318.90" x2="269.80" y2="318.90" stroke="rgba(0,0,0,0.55)" stroke-width="1.0" />
<line x1="276.90" y1="342.80" x2="276.90" y2="346.10" stroke="#3c3c3c" stroke-width="1.1" />
<line x1="276.90" y1="355.90" x2="276.90" y2="480.00" stroke="#3c3c3c" stroke-width="1.1" />
<line x1="274.40" y1="342.80" x2="279.40" y2="342.80" stroke="#222" stroke-width="1.2" />
<rect x="272.90" y="346.10" width="8.00" height="9.80" fill="#ee302a" stroke="#2a2a2a" stroke-width="1"/>
<line x1="272.90" y1="350.00" x2="280.90" y2="350.00" stroke="rgba(0,0,0,0.55)" stroke-width="1.0" />
<line x1="288.30" y1="336.40" x2="288.30" y2="342.20" stroke="#3c3c3c" stroke-width="1.1" />
<line x1="288.30" y1="351.40" x2="288.30" y2="357.80" stroke="#3c3c3c" stroke-width="1.1" />
<line x1="285.80" y1="336.40" x2="290.80" y2="336.40" stroke="#222" stroke-width="1.2" />
<line x1="285.80" y1="357.80" x2="290.80" y2="357.80" stroke="#222" stroke-width="1.2" />
<rect x="284.30" y="342.20" width="8.00" height="9.20" fill="#f4821f" stroke="#2a2a2a" stroke-width="1"/>
<line x1="284.30" y1="347.10" x2="292.30" y2="347.10" stroke="rgba(0,0,0,0.55)" stroke-width="1.0" />
<line x1="299.30" y1="342.80" x2="299.30" y2="345.50" stroke="#3c3c3c" stroke-width="1.1" />
<line x1="299.30" y1="362.30" x2="299.30" y2="372.90" stroke="#3c3c3c" stroke-width="1.1" />
<line x1="296.80" y1="342.80" x2="301.80" y2="342.80" stroke="#222" stroke-width="1.2" />
<line x1="296.80" y1="372.90" x2="301.80" y2="372.90" stroke="#222" stroke-width="1.2" />
<rect x="295.30" y="345.50" width="8.00" height="16.80" fill="#fac65c" stroke="#2a2a2a" stroke-width="1"/>
<line x1="295.30" y1="353.30" x2="303.30" y2="353.30" stroke="rgba(0,0,0,0.55)" stroke-width="1.0" />
<line x1="310.90" y1="354.50" x2="310.90" y2="358.40" stroke="#3c3c3c" stroke-width="1.1" />
<line x1="310.90" y1="382.00" x2="310.90" y2="408.00" stroke="#3c3c3c" stroke-width="1.1" />
<line x1="308.40" y1="354.50" x2="313.40" y2="354.50" stroke="#222" stroke-width="1.2" />
<line x1="308.40" y1="408.00" x2="313.40" y2="408.00" stroke="#222" stroke-width="1.2" />
<rect x="306.90" y="358.40" width="8.00" height="23.60" fill="#bedc6c" stroke="#2a2a2a" stroke-width="1"/>
<line x1="306.90" y1="364.20" x2="314.90" y2="364.20" stroke="rgba(0,0,0,0.55)" stroke-width="1.0" />
<line x1="322.10" y1="342.80" x2="322.10" y2="346.10" stroke="#3c3c3c" stroke-width="1.1" />
<line x1="322.10" y1="368.90" x2="322.10" y2="376.00" stroke="#3c3c3c" stroke-width="1.1" />
<line x1="319.60" y1="342.80" x2="324.60" y2="342.80" stroke="#222" stroke-width="1.2" />
<line x1="319.60" y1="376.00" x2="324.60" y2="376.00" stroke="#222" stroke-width="1.2" />
<rect x="318.10" y="346.10" width="8.00" height="22.80" fill="#7b2791" stroke="#2a2a2a" stroke-width="1"/>
<line x1="318.10" y1="357.80" x2="326.10" y2="357.80" stroke="rgba(0,0,0,0.55)" stroke-width="1.0" />
<line x1="265.80" y1="280.60" x2="265.80" y2="299.90" stroke="#303030" stroke-width="1.15" />
<line x1="265.30" y1="280.60" x2="322.60" y2="280.60" stroke="#303030" stroke-width="1.15" />
<line x1="265.30" y1="284.60" x2="311.40" y2="284.60" stroke="#303030" stroke-width="1.15" />
<line x1="265.30" y1="288.50" x2="299.80" y2="288.50" stroke="#303030" stroke-width="1.15" />
<line x1="265.30" y1="292.40" x2="288.80" y2="292.40" stroke="#303030" stroke-width="1.15" />
<line x1="265.30" y1="296.30" x2="277.40" y2="296.30" stroke="#303030" stroke-width="1.15" />
<line x1="276.90" y1="296.30" x2="276.90" y2="301.00" stroke="#303030" stroke-width="1.15" />
<rect x="273.70" y="303.30" width="1.6" height="2.0" fill="#333"/>
<rect x="276.10" y="303.30" width="1.6" height="2.0" fill="#333"/>
<rect x="278.50" y="303.30" width="1.6" height="2.0" fill="#333"/>
<line x1="276.90" y1="307.00" x2="276.90" y2="337.30" stroke="#303030" stroke-width="1.15" />
<line x1="288.30" y1="292.40" x2="288.30" y2="298.80" stroke="#303030" stroke-width="1.15" />
<rect x="286.30" y="300.50" width="1.6" height="2.0" fill="#333"/>
<rect x="288.70" y="300.50" width="1.6" height="2.0" fill="#333"/>
<line x1="288.30" y1="304.00" x2="288.30" y2="331.20" stroke="#303030" stroke-width="1.15" />
<line x1="299.30" y1="288.50" x2="299.30" y2="299.60" stroke="#303030" stroke-width="1.15" />
<rect x="296.10" y="301.60" width="1.6" height="2.0" fill="#333"/>
<rect x="298.50" y="301.60" width="1.6" height="2.0" fill="#333"/>
<rect x="300.90" y="301.60" width="1.6" height="2.0" fill="#333"/>
<line x1="299.30" y1="305.00" x2="299.30" y2="321.60" stroke="#303030" stroke-width="1.15" />
<line x1="310.90" y1="284.60" x2="310.90" y2="290.20" stroke="#303030" stroke-width="1.15" />
<rect x="307.70" y="292.00" width="1.6" height="2.0" fill="#333"/>
<rect x="310.10" y="292.00" width="1.6" height="2.0" fill="#333"/>
<rect x="312.50" y="292.00" width="1.6" height="2.0" fill="#333"/>
<line x1="310.90" y1="295.30" x2="310.90" y2="349.00" stroke="#303030" stroke-width="1.15" />
<line x1="322.10" y1="280.60" x2="322.10" y2="294.00" stroke="#303030" stroke-width="1.15" />
<rect x="318.90" y="295.80" width="1.6" height="2.0" fill="#333"/>
<rect x="321.30" y="295.80" width="1.6" height="2.0" fill="#333"/>
<rect x="323.70" y="295.80" width="1.6" height="2.0" fill="#333"/>
<line x1="322.10" y1="299.20" x2="322.10" y2="337.30" stroke="#303030" stroke-width="1.15" />
<line x1="287.80" y1="325.70" x2="294.50" y2="325.70" stroke="#303030" stroke-width="1.15" />
<line x1="303.70" y1="325.70" x2="311.40" y2="325.70" stroke="#303030" stroke-width="1.15" />
<rect x="297.00" y="324.50" width="1.6" height="2.0" fill="#333"/>
<rect x="299.40" y="324.50" width="1.6" height="2.0" fill="#333"/>
<line x1="340.80" y1="317.00" x2="340.80" y2="321.70" stroke="#3c3c3c" stroke-width="1.1" />
<line x1="340.80" y1="333.60" x2="340.80" y2="337.40" stroke="#3c3c3c" stroke-width="1.1" />
<line x1="338.30" y1="317.00" x2="343.30" y2="317.00" stroke="#222" stroke-width="1.2" />
<line x1="338.30" y1="337.40" x2="343.30" y2="337.40" stroke="#222" stroke-width="1.2" />
<rect x="336.80" y="321.70" width="8.00" height="11.90" fill="#3c309c" stroke="#2a2a2a" stroke-width="1"/>
<line x1="336.80" y1="325.00" x2="344.80" y2="325.00" stroke="rgba(0,0,0,0.55)" stroke-width="1.0" />
<line x1="351.80" y1="341.80" x2="351.80" y2="344.00" stroke="#3c3c3c" stroke-width="1.1" />
<line x1="351.80" y1="384.60" x2="351.80" y2="386.60" stroke="#3c3c3c" stroke-width="1.1" />
<line x1="349.30" y1="341.80" x2="354.30" y2="341.80" stroke="#222" stroke-width="1.2" />
<line x1="349.30" y1="386.60" x2="354.30" y2="386.60" stroke="#222" stroke-width="1.2" />
<rect x="347.80" y="344.00" width="8.00" height="40.60" fill="#ee302a" stroke="#2a2a2a" stroke-width="1"/>
<line x1="347.80" y1="352.40" x2="355.80" y2="352.40" stroke="rgba(0,0,0,0.55)" stroke-width="1.0" />
<line x1="363.30" y1="341.00" x2="363.30" y2="347.60" stroke="#3c3c3c" stroke-width="1.1" />
<line x1="363.30" y1="384.20" x2="363.30" y2="408.00" stroke="#3c3c3c" stroke-width="1.1" />
<line x1="360.80" y1="341.00" x2="365.80" y2="341.00" stroke="#222" stroke-width="1.2" />
<line x1="360.80" y1="408.00" x2="365.80" y2="408.00" stroke="#222" stroke-width="1.2" />
<rect x="359.30" y="347.60" width="8.00" height="36.60" fill="#f4821f" stroke="#2a2a2a" stroke-width="1"/>
<line x1="359.30" y1="379.80" x2="367.30" y2="379.80" stroke="rgba(0,0,0,0.55)" stroke-width="1.0" />
<line x1="374.40" y1="338.50" x2="374.40" y2="351.10" stroke="#3c3c3c" stroke-width="1.1" />
<line x1="374.40" y1="377.20" x2="374.40" y2="388.50" stroke="#3c3c3c" stroke-width="1.1" />
<line x1="371.90" y1="338.50" x2="376.90" y2="338.50" stroke="#222" stroke-width="1.2" />
<line x1="371.90" y1="388.50" x2="376.90" y2="388.50" stroke="#222" stroke-width="1.2" />
<rect x="370.40" y="351.10" width="8.00" height="26.10" fill="#fac65c" stroke="#2a2a2a" stroke-width="1"/>
<line x1="370.40" y1="360.20" x2="378.40" y2="360.20" stroke="rgba(0,0,0,0.55)" stroke-width="1.0" />
<line x1="385.80" y1="335.00" x2="385.80" y2="344.00" stroke="#3c3c3c" stroke-width="1.1" />
<line x1="385.80" y1="385.60" x2="385.80" y2="408.00" stroke="#3c3c3c" stroke-width="1.1" />
<line x1="383.30" y1="335.00" x2="388.30" y2="335.00" stroke="#222" stroke-width="1.2" />
<line x1="383.30" y1="408.00" x2="388.30" y2="408.00" stroke="#222" stroke-width="1.2" />
<rect x="381.80" y="344.00" width="8.00" height="41.60" fill="#bedc6c" stroke="#2a2a2a" stroke-width="1"/>
<line x1="381.80" y1="371.40" x2="389.80" y2="371.40" stroke="rgba(0,0,0,0.55)" stroke-width="1.0" />
<line x1="396.90" y1="333.50" x2="396.90" y2="351.10" stroke="#3c3c3c" stroke-width="1.1" />
<line x1="396.90" y1="387.60" x2="396.90" y2="397.30" stroke="#3c3c3c" stroke-width="1.1" />
<line x1="394.40" y1="333.50" x2="399.40" y2="333.50" stroke="#222" stroke-width="1.2" />
<line x1="394.40" y1="397.30" x2="399.40" y2="397.30" stroke="#222" stroke-width="1.2" />
<rect x="392.90" y="351.10" width="8.00" height="36.50" fill="#7b2791" stroke="#2a2a2a" stroke-width="1"/>
<line x1="392.90" y1="362.80" x2="400.90" y2="362.80" stroke="rgba(0,0,0,0.55)" stroke-width="1.0" />
<line x1="340.80" y1="291.70" x2="340.80" y2="310.90" stroke="#303030" stroke-width="1.15" />
<line x1="340.30" y1="291.70" x2="397.40" y2="291.70" stroke="#303030" stroke-width="1.15" />
<line x1="340.30" y1="295.30" x2="386.30" y2="295.30" stroke="#303030" stroke-width="1.15" />
<line x1="340.30" y1="299.40" x2="374.90" y2="299.40" stroke="#303030" stroke-width="1.15" />
<line x1="340.30" y1="303.40" x2="363.80" y2="303.40" stroke="#303030" stroke-width="1.15" />
<line x1="340.30" y1="307.30" x2="352.30" y2="307.30" stroke="#303030" stroke-width="1.15" />
<line x1="351.80" y1="307.30" x2="351.80" y2="312.20" stroke="#303030" stroke-width="1.15" />
<rect x="349.80" y="314.10" width="1.6" height="2.0" fill="#333"/>
<rect x="352.20" y="314.10" width="1.6" height="2.0" fill="#333"/>
<line x1="351.80" y1="318.00" x2="351.80" y2="337.00" stroke="#303030" stroke-width="1.15" />
<line x1="363.30" y1="303.40" x2="363.30" y2="310.40" stroke="#303030" stroke-width="1.15" />
<rect x="360.10" y="312.00" width="1.6" height="2.0" fill="#333"/>
<rect x="362.50" y="312.00" width="1.6" height="2.0" fill="#333"/>
<rect x="364.90" y="312.00" width="1.6" height="2.0" fill="#333"/>
<line x1="363.30" y1="316.00" x2="363.30" y2="335.60" stroke="#303030" stroke-width="1.15" />
<line x1="374.40" y1="299.40" x2="374.40" y2="311.40" stroke="#303030" stroke-width="1.15" />
<rect x="371.20" y="313.10" width="1.6" height="2.0" fill="#333"/>
<rect x="373.60" y="313.10" width="1.6" height="2.0" fill="#333"/>
<rect x="376.00" y="313.10" width="1.6" height="2.0" fill="#333"/>
<line x1="374.40" y1="316.60" x2="374.40" y2="337.00" stroke="#303030" stroke-width="1.15" />
<line x1="385.80" y1="295.30" x2="385.80" y2="301.50" stroke="#303030" stroke-width="1.15" />
<rect x="382.60" y="303.20" width="1.6" height="2.0" fill="#333"/>
<rect x="385.00" y="303.20" width="1.6" height="2.0" fill="#333"/>
<rect x="387.40" y="303.20" width="1.6" height="2.0" fill="#333"/>
<line x1="385.80" y1="307.00" x2="385.80" y2="334.10" stroke="#303030" stroke-width="1.15" />
<line x1="396.90" y1="291.70" x2="396.90" y2="305.20" stroke="#303030" stroke-width="1.15" />
<rect x="393.70" y="306.90" width="1.6" height="2.0" fill="#333"/>
<rect x="396.10" y="306.90" width="1.6" height="2.0" fill="#333"/>
<rect x="398.50" y="306.90" width="1.6" height="2.0" fill="#333"/>
<line x1="396.90" y1="310.70" x2="396.90" y2="331.90" stroke="#303030" stroke-width="1.15" />
</svg>
</body></html>
